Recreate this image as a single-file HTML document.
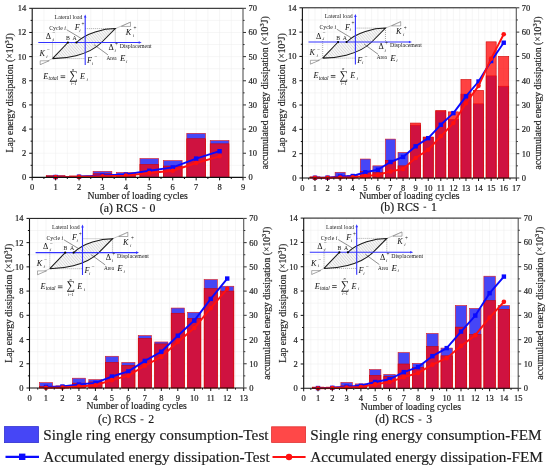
<!DOCTYPE html>
<html><head><meta charset="utf-8"><style>
html,body{margin:0;padding:0;background:#fff;}
svg{display:block;filter:blur(0.3px);}
</style></head><body>
<svg width="550" height="470" viewBox="0 0 550 470">
<rect width="550" height="470" fill="#fff"/>
<defs>
<pattern id="hatch" patternUnits="userSpaceOnUse" width="2.2" height="2.2" patternTransform="rotate(-40)">
<rect width="2.2" height="2.2" fill="#f6f6f6"/>
<line x1="0" y1="0" x2="0" y2="2.2" stroke="#a8a8a8" stroke-width="0.55"/>
</pattern>
</defs>
<path d="M 43.91 8.3 V 177.4 M 55.62 8.3 V 177.4 M 67.33 8.3 V 177.4 M 79.04 8.3 V 177.4 M 90.76 8.3 V 177.4 M 102.47 8.3 V 177.4 M 114.18 8.3 V 177.4 M 125.89 8.3 V 177.4 M 137.6 8.3 V 177.4 M 149.31 8.3 V 177.4 M 161.02 8.3 V 177.4 M 172.73 8.3 V 177.4 M 184.44 8.3 V 177.4 M 196.16 8.3 V 177.4 M 207.87 8.3 V 177.4 M 219.58 8.3 V 177.4 M 231.29 8.3 V 177.4 M 32.2 165.32 H 243 M 32.2 153.24 H 243 M 32.2 141.16 H 243 M 32.2 129.09 H 243 M 32.2 117.01 H 243 M 32.2 104.93 H 243 M 32.2 92.85 H 243 M 32.2 80.77 H 243 M 32.2 68.69 H 243 M 32.2 56.61 H 243 M 32.2 44.54 H 243 M 32.2 32.46 H 243 M 32.2 20.38 H 243" stroke="#ececec" stroke-width="0.5" fill="none"/>
<path d="M 52.5 58.6 L 67.9 42.5 L 76.4 42.5 C 86.16 32.74 103.77 28.6 115.3 28.6 L 101.5 42.5 C 87.89 56.1 63.6 58.6 52.5 58.6 Z" fill="url(#hatch)" stroke="none"/>
<path d="M 85.2 28.6 L 115.3 28.6 L 115.3 42.5 M 52.5 39.5 L 52.5 58.6 L 85.2 58.6" stroke="#555" stroke-width="0.5" stroke-dasharray="1,1" fill="none"/>
<path d="M 115.3 28.6 L 130.5 22.2 M 52.5 58.6 L 40.2 64.5" stroke="#888" stroke-width="0.5" fill="none"/>
<path d="M 121.4 26.4 L 130.5 26.4 L 130.5 22.2 Z M 49.2 60.8 L 40.2 60.8 L 40.2 64.6 Z" stroke="#777" stroke-width="0.6" fill="#fff"/>
<path d="M 52.5 58.6 L 67.9 42.5 M 76.4 42.5 C 86.16 32.74 103.77 28.6 115.3 28.6 L 101.5 42.5 C 87.89 56.1 63.6 58.6 52.5 58.6" stroke="#1a1a1a" stroke-width="1.05" fill="none"/>
<path d="M 66.6 29.7 L 80.8 38.2 M 93.9 44.6 L 107.9 54.8" stroke="#222" stroke-width="0.5" fill="none"/>
<path d="M 38.3 42.5 L 139.7 42.5 M 85.2 65 L 85.2 16.3" stroke="#3333ff" stroke-width="1.1" fill="none"/>
<path d="M 141.7 42.5 L 138.7 41.2 L 138.7 43.8 Z M 85.2 14.5 L 83.9 17.5 L 86.5 17.5 Z" fill="#3333ff"/>
<circle cx="67.9" cy="42.5" r="1.1" fill="#000"/><circle cx="76.4" cy="42.5" r="1.1" fill="#000"/>
<text x="54.6" y="18.8" style="font-family:'Liberation Serif', serif;font-size:5.8px;fill:#222" >Lateral load</text>
<text x="119.8" y="47.8" style="font-family:'Liberation Serif', serif;font-size:5.8px;fill:#222" >Displacement</text>
<text x="49.2" y="29.7" style="font-family:'Liberation Serif', serif;font-size:5.8px;fill:#222" >Cycle <tspan font-style="italic">i</tspan></text>
<text x="66.1" y="40.1" style="font-family:'Liberation Serif', serif;font-size:5.8px;fill:#222" >B</text>
<text x="72.6" y="40.1" style="font-family:'Liberation Serif', serif;font-size:5.8px;fill:#222" >A</text>
<text x="106.6" y="59.9" style="font-family:'Liberation Serif', serif;font-size:5.2px;fill:#222" >Area</text>
<text x="74.8" y="30.1" style="font-family:'Liberation Serif', serif;font-size:8.2px;font-style:italic;fill:#111" >F</text>
<text x="81.4" y="25.9" style="font-family:'Liberation Serif', serif;font-size:5.2px;fill:#222" >+</text>
<text x="79.2" y="31.7" style="font-family:'Liberation Serif', serif;font-size:4.8px;font-style:italic;fill:#222" >i</text>
<text x="87.1" y="63.1" style="font-family:'Liberation Serif', serif;font-size:8.2px;font-style:italic;fill:#111" >F</text>
<text x="94.5" y="58.1" style="font-family:'Liberation Serif', serif;font-size:5.2px;fill:#222" >−</text>
<text x="91.7" y="64.9" style="font-family:'Liberation Serif', serif;font-size:4.8px;font-style:italic;fill:#222" >i</text>
<text x="125.8" y="34.6" style="font-family:'Liberation Serif', serif;font-size:8.2px;font-style:italic;fill:#111" >K</text>
<text x="133.6" y="30" style="font-family:'Liberation Serif', serif;font-size:5.2px;fill:#222" >+</text>
<text x="132.8" y="36.6" style="font-family:'Liberation Serif', serif;font-size:4.8px;font-style:italic;fill:#222" >i</text>
<text x="39.4" y="55.8" style="font-family:'Liberation Serif', serif;font-size:8.2px;font-style:italic;fill:#111" >K</text>
<text x="47" y="51.2" style="font-family:'Liberation Serif', serif;font-size:5.2px;fill:#222" >−</text>
<text x="46.2" y="57.6" style="font-family:'Liberation Serif', serif;font-size:4.8px;font-style:italic;fill:#222" >i</text>
<text x="45.8" y="39" style="font-family:'Liberation Serif', serif;font-size:8.2px;fill:#111" >Δ</text>
<text x="52.6" y="34.4" style="font-family:'Liberation Serif', serif;font-size:5.2px;fill:#222" >−</text>
<text x="52.8" y="40.8" style="font-family:'Liberation Serif', serif;font-size:4.8px;font-style:italic;fill:#222" >i</text>
<text x="108.4" y="49.7" style="font-family:'Liberation Serif', serif;font-size:8.2px;fill:#111" >Δ</text>
<text x="114.9" y="45.9" style="font-family:'Liberation Serif', serif;font-size:5.2px;fill:#222" >+</text>
<text x="114.4" y="52.3" style="font-family:'Liberation Serif', serif;font-size:4.8px;font-style:italic;fill:#222" >i</text>
<text x="120" y="61.2" style="font-family:'Liberation Serif', serif;font-size:8.8px;font-style:italic;fill:#111" >E</text>
<text x="126.1" y="62.5" style="font-family:'Liberation Serif', serif;font-size:4.8px;font-style:italic;fill:#222" >i</text>
<text x="43.2" y="78.7" style="font-family:'Liberation Serif', serif;font-style:italic;fill:#111;font-size:8.2px">E</text>
<text x="48.5" y="80.3" style="font-family:'Liberation Serif', serif;font-style:italic;fill:#111;font-size:5.3px">total</text>
<rect x="60.6" y="75.5" width="4.6" height="0.75" fill="#222"/>
<rect x="60.6" y="77.3" width="4.6" height="0.75" fill="#222"/>
<text x="69" y="79.3" style="font-family:'Liberation Serif', serif;font-size:12px;fill:#111">∑</text>
<text x="72.1" y="70.6" style="font-family:'Liberation Serif', serif;font-style:italic;fill:#111;font-size:4.2px">n</text>
<text x="70.7" y="85.4" style="font-family:'Liberation Serif', serif;font-style:italic;fill:#111;font-size:4.2px">i</text><text x="71.9" y="85.4" style="font-family:'Liberation Serif', serif;font-size:4.2px;fill:#111">=1</text>
<text x="80" y="78.7" style="font-family:'Liberation Serif', serif;font-style:italic;fill:#111;font-size:8.2px">E</text>
<text x="86.4" y="80.6" style="font-family:'Liberation Serif', serif;font-style:italic;fill:#111;font-size:4.8px">i</text>
<rect x="46.25" y="175.35" width="18.74" height="2.05" fill="#4646f6" stroke="#e01a1a" stroke-width="0.6"/>
<rect x="69.68" y="175.95" width="18.74" height="1.45" fill="#4646f6" stroke="#e01a1a" stroke-width="0.6"/>
<rect x="93.1" y="171.36" width="18.74" height="6.04" fill="#4646f6" stroke="#e01a1a" stroke-width="0.6"/>
<rect x="116.52" y="172.57" width="18.74" height="4.83" fill="#4646f6" stroke="#e01a1a" stroke-width="0.6"/>
<rect x="139.94" y="158.56" width="18.74" height="18.84" fill="#4646f6" stroke="#e01a1a" stroke-width="0.6"/>
<rect x="163.36" y="160.61" width="18.74" height="16.79" fill="#4646f6" stroke="#e01a1a" stroke-width="0.6"/>
<rect x="186.79" y="133.31" width="18.74" height="44.09" fill="#4646f6" stroke="#e01a1a" stroke-width="0.6"/>
<rect x="210.21" y="140.56" width="18.74" height="36.84" fill="#4646f6" stroke="#e01a1a" stroke-width="0.6"/>
<rect x="46.25" y="176.19" width="18.74" height="1.21" fill="rgba(255,0,0,0.74)" stroke="#d00000" stroke-width="0.6"/>
<rect x="69.68" y="176.19" width="18.74" height="1.21" fill="rgba(255,0,0,0.74)" stroke="#d00000" stroke-width="0.6"/>
<rect x="93.1" y="173.78" width="18.74" height="3.62" fill="rgba(255,0,0,0.74)" stroke="#d00000" stroke-width="0.6"/>
<rect x="116.52" y="174.38" width="18.74" height="3.02" fill="rgba(255,0,0,0.74)" stroke="#d00000" stroke-width="0.6"/>
<rect x="139.94" y="164.48" width="18.74" height="12.92" fill="rgba(255,0,0,0.74)" stroke="#d00000" stroke-width="0.6"/>
<rect x="163.36" y="166.05" width="18.74" height="11.35" fill="rgba(255,0,0,0.74)" stroke="#d00000" stroke-width="0.6"/>
<rect x="186.79" y="138.75" width="18.74" height="38.65" fill="rgba(255,0,0,0.74)" stroke="#d00000" stroke-width="0.6"/>
<rect x="210.21" y="143.82" width="18.74" height="33.58" fill="rgba(255,0,0,0.74)" stroke="#d00000" stroke-width="0.6"/>
<polyline points="55.62,176.99 79.04,176.7 102.47,175.49 125.89,174.53 149.31,170.76 172.73,167.4 196.16,158.58 219.58,151.21" fill="none" stroke="#0a0aff" stroke-width="1.9" stroke-linejoin="round"/>
<rect x="53.42" y="174.79" width="4.4" height="4.4" fill="#0a0aff"/>
<rect x="76.84" y="174.5" width="4.4" height="4.4" fill="#0a0aff"/>
<rect x="100.27" y="173.29" width="4.4" height="4.4" fill="#0a0aff"/>
<rect x="123.69" y="172.33" width="4.4" height="4.4" fill="#0a0aff"/>
<rect x="147.11" y="168.56" width="4.4" height="4.4" fill="#0a0aff"/>
<rect x="170.53" y="165.2" width="4.4" height="4.4" fill="#0a0aff"/>
<rect x="193.96" y="156.38" width="4.4" height="4.4" fill="#0a0aff"/>
<rect x="217.38" y="149.01" width="4.4" height="4.4" fill="#0a0aff"/>
<polyline points="55.62,177.16 79.04,176.92 102.47,176.19 125.89,175.59 149.31,173 172.73,170.73 196.16,163 219.58,156.29" fill="none" stroke="#ff1010" stroke-width="1.9" stroke-linejoin="round"/>
<circle cx="55.62" cy="177.16" r="2.3" fill="#ff1010"/>
<circle cx="79.04" cy="176.92" r="2.3" fill="#ff1010"/>
<circle cx="102.47" cy="176.19" r="2.3" fill="#ff1010"/>
<circle cx="125.89" cy="175.59" r="2.3" fill="#ff1010"/>
<circle cx="149.31" cy="173" r="2.3" fill="#ff1010"/>
<circle cx="172.73" cy="170.73" r="2.3" fill="#ff1010"/>
<circle cx="196.16" cy="163" r="2.3" fill="#ff1010"/>
<circle cx="219.58" cy="156.29" r="2.3" fill="#ff1010"/>
<path d="M 32.2 8.3 V 177.4 H 243" stroke="#111" stroke-width="1.1" fill="none"/>
<path d="M 32.2 8.3 H 243" stroke="#111" stroke-width="1.0" fill="none"/>
<path d="M 243 8.3 V 177.4" stroke="#555" stroke-width="1.1" fill="none"/>
<path d="M 29.2 177.4 H 32.2 M 30.6 165.32 H 32.2 M 29.2 153.24 H 32.2 M 30.6 141.16 H 32.2 M 29.2 129.09 H 32.2 M 30.6 117.01 H 32.2 M 29.2 104.93 H 32.2 M 30.6 92.85 H 32.2 M 29.2 80.77 H 32.2 M 30.6 68.69 H 32.2 M 29.2 56.61 H 32.2 M 30.6 44.54 H 32.2 M 29.2 32.46 H 32.2 M 30.6 20.38 H 32.2 M 29.2 8.3 H 32.2 M 32.2 177.4 V 180.4 M 43.91 177.4 V 179 M 55.62 177.4 V 180.4 M 67.33 177.4 V 179 M 79.04 177.4 V 180.4 M 90.76 177.4 V 179 M 102.47 177.4 V 180.4 M 114.18 177.4 V 179 M 125.89 177.4 V 180.4 M 137.6 177.4 V 179 M 149.31 177.4 V 180.4 M 161.02 177.4 V 179 M 172.73 177.4 V 180.4 M 184.44 177.4 V 179 M 196.16 177.4 V 180.4 M 207.87 177.4 V 179 M 219.58 177.4 V 180.4 M 231.29 177.4 V 179 M 243 177.4 V 180.4" stroke="#111" stroke-width="1" fill="none"/>
<path d="M 243 177.4 H 246 M 243 165.32 H 244.6 M 243 153.24 H 246 M 243 141.16 H 244.6 M 243 129.09 H 246 M 243 117.01 H 244.6 M 243 104.93 H 246 M 243 92.85 H 244.6 M 243 80.77 H 246 M 243 68.69 H 244.6 M 243 56.61 H 246 M 243 44.54 H 244.6 M 243 32.46 H 246 M 243 20.38 H 244.6 M 243 8.3 H 246" stroke="#333" stroke-width="1" fill="none"/>
<text x="26.2" y="180.4" text-anchor="end" style="font-family:'Liberation Serif', serif;font-size:8.5px;fill:#1e1e1e;stroke:#1e1e1e;stroke-width:0.2px">0</text>
<text x="26.2" y="156.24" text-anchor="end" style="font-family:'Liberation Serif', serif;font-size:8.5px;fill:#1e1e1e;stroke:#1e1e1e;stroke-width:0.2px">2</text>
<text x="26.2" y="132.09" text-anchor="end" style="font-family:'Liberation Serif', serif;font-size:8.5px;fill:#1e1e1e;stroke:#1e1e1e;stroke-width:0.2px">4</text>
<text x="26.2" y="107.93" text-anchor="end" style="font-family:'Liberation Serif', serif;font-size:8.5px;fill:#1e1e1e;stroke:#1e1e1e;stroke-width:0.2px">6</text>
<text x="26.2" y="83.77" text-anchor="end" style="font-family:'Liberation Serif', serif;font-size:8.5px;fill:#1e1e1e;stroke:#1e1e1e;stroke-width:0.2px">8</text>
<text x="26.2" y="59.61" text-anchor="end" style="font-family:'Liberation Serif', serif;font-size:8.5px;fill:#1e1e1e;stroke:#1e1e1e;stroke-width:0.2px">10</text>
<text x="26.2" y="35.46" text-anchor="end" style="font-family:'Liberation Serif', serif;font-size:8.5px;fill:#1e1e1e;stroke:#1e1e1e;stroke-width:0.2px">12</text>
<text x="26.2" y="11.3" text-anchor="end" style="font-family:'Liberation Serif', serif;font-size:8.5px;fill:#1e1e1e;stroke:#1e1e1e;stroke-width:0.2px">14</text>
<text x="32.2" y="190.2" text-anchor="middle" style="font-family:'Liberation Serif', serif;font-size:8.5px;fill:#1e1e1e;stroke:#1e1e1e;stroke-width:0.2px">0</text>
<text x="55.62" y="190.2" text-anchor="middle" style="font-family:'Liberation Serif', serif;font-size:8.5px;fill:#1e1e1e;stroke:#1e1e1e;stroke-width:0.2px">1</text>
<text x="79.04" y="190.2" text-anchor="middle" style="font-family:'Liberation Serif', serif;font-size:8.5px;fill:#1e1e1e;stroke:#1e1e1e;stroke-width:0.2px">2</text>
<text x="102.47" y="190.2" text-anchor="middle" style="font-family:'Liberation Serif', serif;font-size:8.5px;fill:#1e1e1e;stroke:#1e1e1e;stroke-width:0.2px">3</text>
<text x="125.89" y="190.2" text-anchor="middle" style="font-family:'Liberation Serif', serif;font-size:8.5px;fill:#1e1e1e;stroke:#1e1e1e;stroke-width:0.2px">4</text>
<text x="149.31" y="190.2" text-anchor="middle" style="font-family:'Liberation Serif', serif;font-size:8.5px;fill:#1e1e1e;stroke:#1e1e1e;stroke-width:0.2px">5</text>
<text x="172.73" y="190.2" text-anchor="middle" style="font-family:'Liberation Serif', serif;font-size:8.5px;fill:#1e1e1e;stroke:#1e1e1e;stroke-width:0.2px">6</text>
<text x="196.16" y="190.2" text-anchor="middle" style="font-family:'Liberation Serif', serif;font-size:8.5px;fill:#1e1e1e;stroke:#1e1e1e;stroke-width:0.2px">7</text>
<text x="219.58" y="190.2" text-anchor="middle" style="font-family:'Liberation Serif', serif;font-size:8.5px;fill:#1e1e1e;stroke:#1e1e1e;stroke-width:0.2px">8</text>
<text x="243" y="190.2" text-anchor="middle" style="font-family:'Liberation Serif', serif;font-size:8.5px;fill:#1e1e1e;stroke:#1e1e1e;stroke-width:0.2px">9</text>
<text x="248.5" y="180.4" text-anchor="start" style="font-family:'Liberation Serif', serif;font-size:8.5px;fill:#1e1e1e;stroke:#1e1e1e;stroke-width:0.2px">0</text>
<text x="248.5" y="156.24" text-anchor="start" style="font-family:'Liberation Serif', serif;font-size:8.5px;fill:#1e1e1e;stroke:#1e1e1e;stroke-width:0.2px">10</text>
<text x="248.5" y="132.09" text-anchor="start" style="font-family:'Liberation Serif', serif;font-size:8.5px;fill:#1e1e1e;stroke:#1e1e1e;stroke-width:0.2px">20</text>
<text x="248.5" y="107.93" text-anchor="start" style="font-family:'Liberation Serif', serif;font-size:8.5px;fill:#1e1e1e;stroke:#1e1e1e;stroke-width:0.2px">30</text>
<text x="248.5" y="83.77" text-anchor="start" style="font-family:'Liberation Serif', serif;font-size:8.5px;fill:#1e1e1e;stroke:#1e1e1e;stroke-width:0.2px">40</text>
<text x="248.5" y="59.61" text-anchor="start" style="font-family:'Liberation Serif', serif;font-size:8.5px;fill:#1e1e1e;stroke:#1e1e1e;stroke-width:0.2px">50</text>
<text x="248.5" y="35.46" text-anchor="start" style="font-family:'Liberation Serif', serif;font-size:8.5px;fill:#1e1e1e;stroke:#1e1e1e;stroke-width:0.2px">60</text>
<text x="248.5" y="11.3" text-anchor="start" style="font-family:'Liberation Serif', serif;font-size:8.5px;fill:#1e1e1e;stroke:#1e1e1e;stroke-width:0.2px">70</text>
<text transform="translate(12.6 92.85) rotate(-90)" text-anchor="middle" style="font-family:'Liberation Serif', serif;font-size:9.7px;fill:#1e1e1e;stroke:#1e1e1e;stroke-width:0.18px">Lap energy dissipation (×10<tspan dy="-3.4" font-size="6.4">3</tspan><tspan dy="3.4">J)</tspan></text>
<text transform="translate(267.5 92.85) rotate(-90)" text-anchor="middle" style="font-family:'Liberation Serif', serif;font-size:9.7px;fill:#1e1e1e;stroke:#1e1e1e;stroke-width:0.18px">accumulated energy dissipation (×10<tspan dy="-3.4" font-size="6.4">3</tspan><tspan dy="3.4">J)</tspan></text>
<text x="137.6" y="198.8" text-anchor="middle" style="font-family:'Liberation Serif', serif;font-size:9.7px;fill:#1e1e1e;stroke:#1e1e1e;stroke-width:0.18px">Number of loading cycles</text>
<text x="99.8" y="211.5" style="font-family:'Liberation Serif', serif;font-size:11.8px;fill:#1a1a1a;stroke:#1a1a1a;stroke-width:0.18px">(a) RCS</text>
<rect x="142.3" y="207.5" width="2.9" height="1.0" fill="#333"/>
<text x="149.55" y="211.5" style="font-family:'Liberation Serif', serif;font-size:11.8px;fill:#1a1a1a;stroke:#1a1a1a;stroke-width:0.18px">0</text>
<path d="M 308.69 7.8 V 178 M 314.98 7.8 V 178 M 321.27 7.8 V 178 M 327.56 7.8 V 178 M 333.86 7.8 V 178 M 340.15 7.8 V 178 M 346.44 7.8 V 178 M 352.73 7.8 V 178 M 359.02 7.8 V 178 M 365.31 7.8 V 178 M 371.6 7.8 V 178 M 377.89 7.8 V 178 M 384.19 7.8 V 178 M 390.48 7.8 V 178 M 396.77 7.8 V 178 M 403.06 7.8 V 178 M 409.35 7.8 V 178 M 415.64 7.8 V 178 M 421.93 7.8 V 178 M 428.22 7.8 V 178 M 434.51 7.8 V 178 M 440.81 7.8 V 178 M 447.1 7.8 V 178 M 453.39 7.8 V 178 M 459.68 7.8 V 178 M 465.97 7.8 V 178 M 472.26 7.8 V 178 M 478.55 7.8 V 178 M 484.84 7.8 V 178 M 491.14 7.8 V 178 M 497.43 7.8 V 178 M 503.72 7.8 V 178 M 510.01 7.8 V 178 M 302.4 165.84 H 516.3 M 302.4 153.69 H 516.3 M 302.4 141.53 H 516.3 M 302.4 129.37 H 516.3 M 302.4 117.21 H 516.3 M 302.4 105.06 H 516.3 M 302.4 92.9 H 516.3 M 302.4 80.74 H 516.3 M 302.4 68.59 H 516.3 M 302.4 56.43 H 516.3 M 302.4 44.27 H 516.3 M 302.4 32.11 H 516.3 M 302.4 19.96 H 516.3" stroke="#ececec" stroke-width="0.5" fill="none"/>
<path d="M 322.7 58.1 L 338.1 42 L 346.6 42 C 356.36 32.24 373.97 28.1 385.5 28.1 L 371.7 42 C 358.09 55.6 333.8 58.1 322.7 58.1 Z" fill="url(#hatch)" stroke="none"/>
<path d="M 355.4 28.1 L 385.5 28.1 L 385.5 42 M 322.7 39 L 322.7 58.1 L 355.4 58.1" stroke="#555" stroke-width="0.5" stroke-dasharray="1,1" fill="none"/>
<path d="M 385.5 28.1 L 400.7 21.7 M 322.7 58.1 L 310.4 64" stroke="#888" stroke-width="0.5" fill="none"/>
<path d="M 391.6 25.9 L 400.7 25.9 L 400.7 21.7 Z M 319.4 60.3 L 310.4 60.3 L 310.4 64.1 Z" stroke="#777" stroke-width="0.6" fill="#fff"/>
<path d="M 322.7 58.1 L 338.1 42 M 346.6 42 C 356.36 32.24 373.97 28.1 385.5 28.1 L 371.7 42 C 358.09 55.6 333.8 58.1 322.7 58.1" stroke="#1a1a1a" stroke-width="1.05" fill="none"/>
<path d="M 336.8 29.2 L 351 37.7 M 364.1 44.1 L 378.1 54.3" stroke="#222" stroke-width="0.5" fill="none"/>
<path d="M 308.5 42 L 409.9 42 M 355.4 64.5 L 355.4 15.8" stroke="#3333ff" stroke-width="1.1" fill="none"/>
<path d="M 411.9 42 L 408.9 40.7 L 408.9 43.3 Z M 355.4 14 L 354.1 17 L 356.7 17 Z" fill="#3333ff"/>
<circle cx="338.1" cy="42" r="1.1" fill="#000"/><circle cx="346.6" cy="42" r="1.1" fill="#000"/>
<text x="324.8" y="18.3" style="font-family:'Liberation Serif', serif;font-size:5.8px;fill:#222" >Lateral load</text>
<text x="390" y="47.3" style="font-family:'Liberation Serif', serif;font-size:5.8px;fill:#222" >Displacement</text>
<text x="319.4" y="29.2" style="font-family:'Liberation Serif', serif;font-size:5.8px;fill:#222" >Cycle <tspan font-style="italic">i</tspan></text>
<text x="336.3" y="39.6" style="font-family:'Liberation Serif', serif;font-size:5.8px;fill:#222" >B</text>
<text x="342.8" y="39.6" style="font-family:'Liberation Serif', serif;font-size:5.8px;fill:#222" >A</text>
<text x="376.8" y="59.4" style="font-family:'Liberation Serif', serif;font-size:5.2px;fill:#222" >Area</text>
<text x="345" y="29.6" style="font-family:'Liberation Serif', serif;font-size:8.2px;font-style:italic;fill:#111" >F</text>
<text x="351.6" y="25.4" style="font-family:'Liberation Serif', serif;font-size:5.2px;fill:#222" >+</text>
<text x="349.4" y="31.2" style="font-family:'Liberation Serif', serif;font-size:4.8px;font-style:italic;fill:#222" >i</text>
<text x="357.3" y="62.6" style="font-family:'Liberation Serif', serif;font-size:8.2px;font-style:italic;fill:#111" >F</text>
<text x="364.7" y="57.6" style="font-family:'Liberation Serif', serif;font-size:5.2px;fill:#222" >−</text>
<text x="361.9" y="64.4" style="font-family:'Liberation Serif', serif;font-size:4.8px;font-style:italic;fill:#222" >i</text>
<text x="396" y="34.1" style="font-family:'Liberation Serif', serif;font-size:8.2px;font-style:italic;fill:#111" >K</text>
<text x="403.8" y="29.5" style="font-family:'Liberation Serif', serif;font-size:5.2px;fill:#222" >+</text>
<text x="403" y="36.1" style="font-family:'Liberation Serif', serif;font-size:4.8px;font-style:italic;fill:#222" >i</text>
<text x="309.6" y="55.3" style="font-family:'Liberation Serif', serif;font-size:8.2px;font-style:italic;fill:#111" >K</text>
<text x="317.2" y="50.7" style="font-family:'Liberation Serif', serif;font-size:5.2px;fill:#222" >−</text>
<text x="316.4" y="57.1" style="font-family:'Liberation Serif', serif;font-size:4.8px;font-style:italic;fill:#222" >i</text>
<text x="316" y="38.5" style="font-family:'Liberation Serif', serif;font-size:8.2px;fill:#111" >Δ</text>
<text x="322.8" y="33.9" style="font-family:'Liberation Serif', serif;font-size:5.2px;fill:#222" >−</text>
<text x="323" y="40.3" style="font-family:'Liberation Serif', serif;font-size:4.8px;font-style:italic;fill:#222" >i</text>
<text x="378.6" y="49.2" style="font-family:'Liberation Serif', serif;font-size:8.2px;fill:#111" >Δ</text>
<text x="385.1" y="45.4" style="font-family:'Liberation Serif', serif;font-size:5.2px;fill:#222" >+</text>
<text x="384.6" y="51.8" style="font-family:'Liberation Serif', serif;font-size:4.8px;font-style:italic;fill:#222" >i</text>
<text x="390.2" y="60.7" style="font-family:'Liberation Serif', serif;font-size:8.8px;font-style:italic;fill:#111" >E</text>
<text x="396.3" y="62" style="font-family:'Liberation Serif', serif;font-size:4.8px;font-style:italic;fill:#222" >i</text>
<text x="313.4" y="78.2" style="font-family:'Liberation Serif', serif;font-style:italic;fill:#111;font-size:8.2px">E</text>
<text x="318.7" y="79.8" style="font-family:'Liberation Serif', serif;font-style:italic;fill:#111;font-size:5.3px">total</text>
<rect x="330.8" y="75" width="4.6" height="0.75" fill="#222"/>
<rect x="330.8" y="76.8" width="4.6" height="0.75" fill="#222"/>
<text x="339.2" y="78.8" style="font-family:'Liberation Serif', serif;font-size:12px;fill:#111">∑</text>
<text x="342.3" y="70.1" style="font-family:'Liberation Serif', serif;font-style:italic;fill:#111;font-size:4.2px">n</text>
<text x="340.9" y="84.9" style="font-family:'Liberation Serif', serif;font-style:italic;fill:#111;font-size:4.2px">i</text><text x="342.1" y="84.9" style="font-family:'Liberation Serif', serif;font-size:4.2px;fill:#111">=1</text>
<text x="350.2" y="78.2" style="font-family:'Liberation Serif', serif;font-style:italic;fill:#111;font-size:8.2px">E</text>
<text x="356.6" y="80.1" style="font-family:'Liberation Serif', serif;font-style:italic;fill:#111;font-size:4.8px">i</text>
<rect x="309.95" y="176.78" width="10.07" height="1.22" fill="#4646f6" stroke="#e01a1a" stroke-width="0.6"/>
<rect x="322.53" y="177.39" width="10.07" height="0.61" fill="#4646f6" stroke="#e01a1a" stroke-width="0.6"/>
<rect x="335.11" y="172.29" width="10.07" height="5.71" fill="#4646f6" stroke="#e01a1a" stroke-width="0.6"/>
<rect x="347.7" y="175.57" width="10.07" height="2.43" fill="#4646f6" stroke="#e01a1a" stroke-width="0.6"/>
<rect x="360.28" y="159.03" width="10.07" height="18.97" fill="#4646f6" stroke="#e01a1a" stroke-width="0.6"/>
<rect x="372.86" y="165.84" width="10.07" height="12.16" fill="#4646f6" stroke="#e01a1a" stroke-width="0.6"/>
<rect x="385.44" y="139.1" width="10.07" height="38.9" fill="#4646f6" stroke="#e01a1a" stroke-width="0.6"/>
<rect x="398.03" y="152.47" width="10.07" height="25.53" fill="#4646f6" stroke="#e01a1a" stroke-width="0.6"/>
<rect x="410.61" y="125.12" width="10.07" height="52.88" fill="#4646f6" stroke="#e01a1a" stroke-width="0.6"/>
<rect x="423.19" y="137.27" width="10.07" height="40.73" fill="#4646f6" stroke="#e01a1a" stroke-width="0.6"/>
<rect x="435.77" y="111.14" width="10.07" height="66.86" fill="#4646f6" stroke="#e01a1a" stroke-width="0.6"/>
<rect x="448.36" y="119.52" width="10.07" height="58.48" fill="#4646f6" stroke="#e01a1a" stroke-width="0.6"/>
<rect x="460.94" y="94.12" width="10.07" height="83.88" fill="#4646f6" stroke="#e01a1a" stroke-width="0.6"/>
<rect x="473.52" y="103.84" width="10.07" height="74.16" fill="#4646f6" stroke="#e01a1a" stroke-width="0.6"/>
<rect x="486.1" y="75.88" width="10.07" height="102.12" fill="#4646f6" stroke="#e01a1a" stroke-width="0.6"/>
<rect x="498.68" y="86.21" width="10.07" height="91.79" fill="#4646f6" stroke="#e01a1a" stroke-width="0.6"/>
<rect x="309.95" y="177.39" width="10.07" height="0.61" fill="rgba(255,0,0,0.74)" stroke="#d00000" stroke-width="0.6"/>
<rect x="322.53" y="177.39" width="10.07" height="0.61" fill="rgba(255,0,0,0.74)" stroke="#d00000" stroke-width="0.6"/>
<rect x="335.11" y="176.78" width="10.07" height="1.22" fill="rgba(255,0,0,0.74)" stroke="#d00000" stroke-width="0.6"/>
<rect x="347.7" y="176.78" width="10.07" height="1.22" fill="rgba(255,0,0,0.74)" stroke="#d00000" stroke-width="0.6"/>
<rect x="360.28" y="171.56" width="10.07" height="6.44" fill="rgba(255,0,0,0.74)" stroke="#d00000" stroke-width="0.6"/>
<rect x="372.86" y="172.65" width="10.07" height="5.35" fill="rgba(255,0,0,0.74)" stroke="#d00000" stroke-width="0.6"/>
<rect x="385.44" y="160.37" width="10.07" height="17.63" fill="rgba(255,0,0,0.74)" stroke="#d00000" stroke-width="0.6"/>
<rect x="398.03" y="165.84" width="10.07" height="12.16" fill="rgba(255,0,0,0.74)" stroke="#d00000" stroke-width="0.6"/>
<rect x="410.61" y="123.05" width="10.07" height="54.95" fill="rgba(255,0,0,0.74)" stroke="#d00000" stroke-width="0.6"/>
<rect x="423.19" y="137.03" width="10.07" height="40.97" fill="rgba(255,0,0,0.74)" stroke="#d00000" stroke-width="0.6"/>
<rect x="435.77" y="110.53" width="10.07" height="67.47" fill="rgba(255,0,0,0.74)" stroke="#d00000" stroke-width="0.6"/>
<rect x="448.36" y="111.87" width="10.07" height="66.13" fill="rgba(255,0,0,0.74)" stroke="#d00000" stroke-width="0.6"/>
<rect x="460.94" y="79.53" width="10.07" height="98.47" fill="rgba(255,0,0,0.74)" stroke="#d00000" stroke-width="0.6"/>
<rect x="473.52" y="90.47" width="10.07" height="87.53" fill="rgba(255,0,0,0.74)" stroke="#d00000" stroke-width="0.6"/>
<rect x="486.1" y="41.84" width="10.07" height="136.16" fill="rgba(255,0,0,0.74)" stroke="#d00000" stroke-width="0.6"/>
<rect x="498.68" y="56.43" width="10.07" height="121.57" fill="rgba(255,0,0,0.74)" stroke="#d00000" stroke-width="0.6"/>
<polyline points="314.98,177.76 327.56,177.64 340.15,176.49 352.73,176.01 365.31,172.21 377.89,169.78 390.48,162 403.06,156.9 415.64,146.32 428.22,138.17 440.81,124.8 453.39,113.11 465.97,96.33 478.55,81.5 491.14,61.07 503.72,42.72" fill="none" stroke="#0a0aff" stroke-width="1.9" stroke-linejoin="round"/>
<rect x="312.78" y="175.56" width="4.4" height="4.4" fill="#0a0aff"/>
<rect x="325.36" y="175.44" width="4.4" height="4.4" fill="#0a0aff"/>
<rect x="337.95" y="174.29" width="4.4" height="4.4" fill="#0a0aff"/>
<rect x="350.53" y="173.81" width="4.4" height="4.4" fill="#0a0aff"/>
<rect x="363.11" y="170.01" width="4.4" height="4.4" fill="#0a0aff"/>
<rect x="375.69" y="167.58" width="4.4" height="4.4" fill="#0a0aff"/>
<rect x="388.28" y="159.8" width="4.4" height="4.4" fill="#0a0aff"/>
<rect x="400.86" y="154.7" width="4.4" height="4.4" fill="#0a0aff"/>
<rect x="413.44" y="144.12" width="4.4" height="4.4" fill="#0a0aff"/>
<rect x="426.02" y="135.97" width="4.4" height="4.4" fill="#0a0aff"/>
<rect x="438.61" y="122.6" width="4.4" height="4.4" fill="#0a0aff"/>
<rect x="451.19" y="110.91" width="4.4" height="4.4" fill="#0a0aff"/>
<rect x="463.77" y="94.13" width="4.4" height="4.4" fill="#0a0aff"/>
<rect x="476.35" y="79.3" width="4.4" height="4.4" fill="#0a0aff"/>
<rect x="488.94" y="58.87" width="4.4" height="4.4" fill="#0a0aff"/>
<rect x="501.52" y="40.52" width="4.4" height="4.4" fill="#0a0aff"/>
<polyline points="314.98,177.88 327.56,177.76 340.15,177.51 352.73,177.27 365.31,175.98 377.89,174.91 390.48,171.39 403.06,168.96 415.64,157.97 428.22,149.77 440.81,136.28 453.39,123.05 465.97,103.36 478.55,85.85 491.14,58.62 503.72,34.3" fill="none" stroke="#ff1010" stroke-width="1.9" stroke-linejoin="round"/>
<circle cx="314.98" cy="177.88" r="2.3" fill="#ff1010"/>
<circle cx="327.56" cy="177.76" r="2.3" fill="#ff1010"/>
<circle cx="340.15" cy="177.51" r="2.3" fill="#ff1010"/>
<circle cx="352.73" cy="177.27" r="2.3" fill="#ff1010"/>
<circle cx="365.31" cy="175.98" r="2.3" fill="#ff1010"/>
<circle cx="377.89" cy="174.91" r="2.3" fill="#ff1010"/>
<circle cx="390.48" cy="171.39" r="2.3" fill="#ff1010"/>
<circle cx="403.06" cy="168.96" r="2.3" fill="#ff1010"/>
<circle cx="415.64" cy="157.97" r="2.3" fill="#ff1010"/>
<circle cx="428.22" cy="149.77" r="2.3" fill="#ff1010"/>
<circle cx="440.81" cy="136.28" r="2.3" fill="#ff1010"/>
<circle cx="453.39" cy="123.05" r="2.3" fill="#ff1010"/>
<circle cx="465.97" cy="103.36" r="2.3" fill="#ff1010"/>
<circle cx="478.55" cy="85.85" r="2.3" fill="#ff1010"/>
<circle cx="491.14" cy="58.62" r="2.3" fill="#ff1010"/>
<circle cx="503.72" cy="34.3" r="2.3" fill="#ff1010"/>
<path d="M 302.4 7.8 V 178 H 516.3" stroke="#111" stroke-width="1.1" fill="none"/>
<path d="M 302.4 7.8 H 516.3" stroke="#111" stroke-width="1.0" fill="none"/>
<path d="M 516.3 7.8 V 178" stroke="#555" stroke-width="1.1" fill="none"/>
<path d="M 299.4 178 H 302.4 M 300.8 165.84 H 302.4 M 299.4 153.69 H 302.4 M 300.8 141.53 H 302.4 M 299.4 129.37 H 302.4 M 300.8 117.21 H 302.4 M 299.4 105.06 H 302.4 M 300.8 92.9 H 302.4 M 299.4 80.74 H 302.4 M 300.8 68.59 H 302.4 M 299.4 56.43 H 302.4 M 300.8 44.27 H 302.4 M 299.4 32.11 H 302.4 M 300.8 19.96 H 302.4 M 299.4 7.8 H 302.4 M 302.4 178 V 181 M 308.69 178 V 179.6 M 314.98 178 V 181 M 321.27 178 V 179.6 M 327.56 178 V 181 M 333.86 178 V 179.6 M 340.15 178 V 181 M 346.44 178 V 179.6 M 352.73 178 V 181 M 359.02 178 V 179.6 M 365.31 178 V 181 M 371.6 178 V 179.6 M 377.89 178 V 181 M 384.19 178 V 179.6 M 390.48 178 V 181 M 396.77 178 V 179.6 M 403.06 178 V 181 M 409.35 178 V 179.6 M 415.64 178 V 181 M 421.93 178 V 179.6 M 428.22 178 V 181 M 434.51 178 V 179.6 M 440.81 178 V 181 M 447.1 178 V 179.6 M 453.39 178 V 181 M 459.68 178 V 179.6 M 465.97 178 V 181 M 472.26 178 V 179.6 M 478.55 178 V 181 M 484.84 178 V 179.6 M 491.14 178 V 181 M 497.43 178 V 179.6 M 503.72 178 V 181 M 510.01 178 V 179.6 M 516.3 178 V 181" stroke="#111" stroke-width="1" fill="none"/>
<path d="M 516.3 178 H 519.3 M 516.3 165.84 H 517.9 M 516.3 153.69 H 519.3 M 516.3 141.53 H 517.9 M 516.3 129.37 H 519.3 M 516.3 117.21 H 517.9 M 516.3 105.06 H 519.3 M 516.3 92.9 H 517.9 M 516.3 80.74 H 519.3 M 516.3 68.59 H 517.9 M 516.3 56.43 H 519.3 M 516.3 44.27 H 517.9 M 516.3 32.11 H 519.3 M 516.3 19.96 H 517.9 M 516.3 7.8 H 519.3" stroke="#333" stroke-width="1" fill="none"/>
<text x="296.4" y="181" text-anchor="end" style="font-family:'Liberation Serif', serif;font-size:8.5px;fill:#1e1e1e;stroke:#1e1e1e;stroke-width:0.2px">0</text>
<text x="296.4" y="156.69" text-anchor="end" style="font-family:'Liberation Serif', serif;font-size:8.5px;fill:#1e1e1e;stroke:#1e1e1e;stroke-width:0.2px">2</text>
<text x="296.4" y="132.37" text-anchor="end" style="font-family:'Liberation Serif', serif;font-size:8.5px;fill:#1e1e1e;stroke:#1e1e1e;stroke-width:0.2px">4</text>
<text x="296.4" y="108.06" text-anchor="end" style="font-family:'Liberation Serif', serif;font-size:8.5px;fill:#1e1e1e;stroke:#1e1e1e;stroke-width:0.2px">6</text>
<text x="296.4" y="83.74" text-anchor="end" style="font-family:'Liberation Serif', serif;font-size:8.5px;fill:#1e1e1e;stroke:#1e1e1e;stroke-width:0.2px">8</text>
<text x="296.4" y="59.43" text-anchor="end" style="font-family:'Liberation Serif', serif;font-size:8.5px;fill:#1e1e1e;stroke:#1e1e1e;stroke-width:0.2px">10</text>
<text x="296.4" y="35.11" text-anchor="end" style="font-family:'Liberation Serif', serif;font-size:8.5px;fill:#1e1e1e;stroke:#1e1e1e;stroke-width:0.2px">12</text>
<text x="296.4" y="10.8" text-anchor="end" style="font-family:'Liberation Serif', serif;font-size:8.5px;fill:#1e1e1e;stroke:#1e1e1e;stroke-width:0.2px">14</text>
<text x="302.4" y="190.8" text-anchor="middle" style="font-family:'Liberation Serif', serif;font-size:8.5px;fill:#1e1e1e;stroke:#1e1e1e;stroke-width:0.2px">0</text>
<text x="314.98" y="190.8" text-anchor="middle" style="font-family:'Liberation Serif', serif;font-size:8.5px;fill:#1e1e1e;stroke:#1e1e1e;stroke-width:0.2px">1</text>
<text x="327.56" y="190.8" text-anchor="middle" style="font-family:'Liberation Serif', serif;font-size:8.5px;fill:#1e1e1e;stroke:#1e1e1e;stroke-width:0.2px">2</text>
<text x="340.15" y="190.8" text-anchor="middle" style="font-family:'Liberation Serif', serif;font-size:8.5px;fill:#1e1e1e;stroke:#1e1e1e;stroke-width:0.2px">3</text>
<text x="352.73" y="190.8" text-anchor="middle" style="font-family:'Liberation Serif', serif;font-size:8.5px;fill:#1e1e1e;stroke:#1e1e1e;stroke-width:0.2px">4</text>
<text x="365.31" y="190.8" text-anchor="middle" style="font-family:'Liberation Serif', serif;font-size:8.5px;fill:#1e1e1e;stroke:#1e1e1e;stroke-width:0.2px">5</text>
<text x="377.89" y="190.8" text-anchor="middle" style="font-family:'Liberation Serif', serif;font-size:8.5px;fill:#1e1e1e;stroke:#1e1e1e;stroke-width:0.2px">6</text>
<text x="390.48" y="190.8" text-anchor="middle" style="font-family:'Liberation Serif', serif;font-size:8.5px;fill:#1e1e1e;stroke:#1e1e1e;stroke-width:0.2px">7</text>
<text x="403.06" y="190.8" text-anchor="middle" style="font-family:'Liberation Serif', serif;font-size:8.5px;fill:#1e1e1e;stroke:#1e1e1e;stroke-width:0.2px">8</text>
<text x="415.64" y="190.8" text-anchor="middle" style="font-family:'Liberation Serif', serif;font-size:8.5px;fill:#1e1e1e;stroke:#1e1e1e;stroke-width:0.2px">9</text>
<text x="428.22" y="190.8" text-anchor="middle" style="font-family:'Liberation Serif', serif;font-size:8.5px;fill:#1e1e1e;stroke:#1e1e1e;stroke-width:0.2px">10</text>
<text x="440.81" y="190.8" text-anchor="middle" style="font-family:'Liberation Serif', serif;font-size:8.5px;fill:#1e1e1e;stroke:#1e1e1e;stroke-width:0.2px">11</text>
<text x="453.39" y="190.8" text-anchor="middle" style="font-family:'Liberation Serif', serif;font-size:8.5px;fill:#1e1e1e;stroke:#1e1e1e;stroke-width:0.2px">12</text>
<text x="465.97" y="190.8" text-anchor="middle" style="font-family:'Liberation Serif', serif;font-size:8.5px;fill:#1e1e1e;stroke:#1e1e1e;stroke-width:0.2px">13</text>
<text x="478.55" y="190.8" text-anchor="middle" style="font-family:'Liberation Serif', serif;font-size:8.5px;fill:#1e1e1e;stroke:#1e1e1e;stroke-width:0.2px">14</text>
<text x="491.14" y="190.8" text-anchor="middle" style="font-family:'Liberation Serif', serif;font-size:8.5px;fill:#1e1e1e;stroke:#1e1e1e;stroke-width:0.2px">15</text>
<text x="503.72" y="190.8" text-anchor="middle" style="font-family:'Liberation Serif', serif;font-size:8.5px;fill:#1e1e1e;stroke:#1e1e1e;stroke-width:0.2px">16</text>
<text x="516.3" y="190.8" text-anchor="middle" style="font-family:'Liberation Serif', serif;font-size:8.5px;fill:#1e1e1e;stroke:#1e1e1e;stroke-width:0.2px">17</text>
<text x="521.8" y="181" text-anchor="start" style="font-family:'Liberation Serif', serif;font-size:8.5px;fill:#1e1e1e;stroke:#1e1e1e;stroke-width:0.2px">0</text>
<text x="521.8" y="156.69" text-anchor="start" style="font-family:'Liberation Serif', serif;font-size:8.5px;fill:#1e1e1e;stroke:#1e1e1e;stroke-width:0.2px">10</text>
<text x="521.8" y="132.37" text-anchor="start" style="font-family:'Liberation Serif', serif;font-size:8.5px;fill:#1e1e1e;stroke:#1e1e1e;stroke-width:0.2px">20</text>
<text x="521.8" y="108.06" text-anchor="start" style="font-family:'Liberation Serif', serif;font-size:8.5px;fill:#1e1e1e;stroke:#1e1e1e;stroke-width:0.2px">30</text>
<text x="521.8" y="83.74" text-anchor="start" style="font-family:'Liberation Serif', serif;font-size:8.5px;fill:#1e1e1e;stroke:#1e1e1e;stroke-width:0.2px">40</text>
<text x="521.8" y="59.43" text-anchor="start" style="font-family:'Liberation Serif', serif;font-size:8.5px;fill:#1e1e1e;stroke:#1e1e1e;stroke-width:0.2px">50</text>
<text x="521.8" y="35.11" text-anchor="start" style="font-family:'Liberation Serif', serif;font-size:8.5px;fill:#1e1e1e;stroke:#1e1e1e;stroke-width:0.2px">60</text>
<text x="521.8" y="10.8" text-anchor="start" style="font-family:'Liberation Serif', serif;font-size:8.5px;fill:#1e1e1e;stroke:#1e1e1e;stroke-width:0.2px">70</text>
<text transform="translate(285.4 92.9) rotate(-90)" text-anchor="middle" style="font-family:'Liberation Serif', serif;font-size:9.7px;fill:#1e1e1e;stroke:#1e1e1e;stroke-width:0.18px">Lap energy dissipation (×10<tspan dy="-3.4" font-size="6.4">3</tspan><tspan dy="3.4">J)</tspan></text>
<text transform="translate(540.8 92.9) rotate(-90)" text-anchor="middle" style="font-family:'Liberation Serif', serif;font-size:9.7px;fill:#1e1e1e;stroke:#1e1e1e;stroke-width:0.18px">accumulated energy dissipation (×10<tspan dy="-3.4" font-size="6.4">3</tspan><tspan dy="3.4">J)</tspan></text>
<text x="409.35" y="199.4" text-anchor="middle" style="font-family:'Liberation Serif', serif;font-size:9.7px;fill:#1e1e1e;stroke:#1e1e1e;stroke-width:0.18px">Number of loading cycles</text>
<text x="380.4" y="210.9" style="font-family:'Liberation Serif', serif;font-size:11.8px;fill:#1a1a1a;stroke:#1a1a1a;stroke-width:0.18px">(b) RCS</text>
<rect x="423.5" y="206.7" width="2.7" height="1.0" fill="#333"/>
<text x="431.06" y="210.9" style="font-family:'Liberation Serif', serif;font-size:11.8px;fill:#1a1a1a;stroke:#1a1a1a;stroke-width:0.18px">1</text>
<path d="M 37.74 218.4 V 388 M 45.98 218.4 V 388 M 54.22 218.4 V 388 M 62.45 218.4 V 388 M 70.69 218.4 V 388 M 78.93 218.4 V 388 M 87.17 218.4 V 388 M 95.41 218.4 V 388 M 103.65 218.4 V 388 M 111.88 218.4 V 388 M 120.12 218.4 V 388 M 128.36 218.4 V 388 M 136.6 218.4 V 388 M 144.84 218.4 V 388 M 153.08 218.4 V 388 M 161.32 218.4 V 388 M 169.55 218.4 V 388 M 177.79 218.4 V 388 M 186.03 218.4 V 388 M 194.27 218.4 V 388 M 202.51 218.4 V 388 M 210.75 218.4 V 388 M 218.98 218.4 V 388 M 227.22 218.4 V 388 M 235.46 218.4 V 388 M 29.5 375.89 H 243.7 M 29.5 363.77 H 243.7 M 29.5 351.66 H 243.7 M 29.5 339.54 H 243.7 M 29.5 327.43 H 243.7 M 29.5 315.31 H 243.7 M 29.5 303.2 H 243.7 M 29.5 291.09 H 243.7 M 29.5 278.97 H 243.7 M 29.5 266.86 H 243.7 M 29.5 254.74 H 243.7 M 29.5 242.63 H 243.7 M 29.5 230.51 H 243.7" stroke="#ececec" stroke-width="0.5" fill="none"/>
<path d="M 49.8 268.7 L 65.2 252.6 L 73.7 252.6 C 83.46 242.84 101.07 238.7 112.6 238.7 L 98.8 252.6 C 85.19 266.2 60.9 268.7 49.8 268.7 Z" fill="url(#hatch)" stroke="none"/>
<path d="M 82.5 238.7 L 112.6 238.7 L 112.6 252.6 M 49.8 249.6 L 49.8 268.7 L 82.5 268.7" stroke="#555" stroke-width="0.5" stroke-dasharray="1,1" fill="none"/>
<path d="M 112.6 238.7 L 127.8 232.3 M 49.8 268.7 L 37.5 274.6" stroke="#888" stroke-width="0.5" fill="none"/>
<path d="M 118.7 236.5 L 127.8 236.5 L 127.8 232.3 Z M 46.5 270.9 L 37.5 270.9 L 37.5 274.7 Z" stroke="#777" stroke-width="0.6" fill="#fff"/>
<path d="M 49.8 268.7 L 65.2 252.6 M 73.7 252.6 C 83.46 242.84 101.07 238.7 112.6 238.7 L 98.8 252.6 C 85.19 266.2 60.9 268.7 49.8 268.7" stroke="#1a1a1a" stroke-width="1.05" fill="none"/>
<path d="M 63.9 239.8 L 78.1 248.3 M 91.2 254.7 L 105.2 264.9" stroke="#222" stroke-width="0.5" fill="none"/>
<path d="M 35.6 252.6 L 137 252.6 M 82.5 275.1 L 82.5 226.4" stroke="#3333ff" stroke-width="1.1" fill="none"/>
<path d="M 139 252.6 L 136 251.3 L 136 253.9 Z M 82.5 224.6 L 81.2 227.6 L 83.8 227.6 Z" fill="#3333ff"/>
<circle cx="65.2" cy="252.6" r="1.1" fill="#000"/><circle cx="73.7" cy="252.6" r="1.1" fill="#000"/>
<text x="51.9" y="228.9" style="font-family:'Liberation Serif', serif;font-size:5.8px;fill:#222" >Lateral load</text>
<text x="117.1" y="257.9" style="font-family:'Liberation Serif', serif;font-size:5.8px;fill:#222" >Displacement</text>
<text x="46.5" y="239.8" style="font-family:'Liberation Serif', serif;font-size:5.8px;fill:#222" >Cycle <tspan font-style="italic">i</tspan></text>
<text x="63.4" y="250.2" style="font-family:'Liberation Serif', serif;font-size:5.8px;fill:#222" >B</text>
<text x="69.9" y="250.2" style="font-family:'Liberation Serif', serif;font-size:5.8px;fill:#222" >A</text>
<text x="103.9" y="270" style="font-family:'Liberation Serif', serif;font-size:5.2px;fill:#222" >Area</text>
<text x="72.1" y="240.2" style="font-family:'Liberation Serif', serif;font-size:8.2px;font-style:italic;fill:#111" >F</text>
<text x="78.7" y="236" style="font-family:'Liberation Serif', serif;font-size:5.2px;fill:#222" >+</text>
<text x="76.5" y="241.8" style="font-family:'Liberation Serif', serif;font-size:4.8px;font-style:italic;fill:#222" >i</text>
<text x="84.4" y="273.2" style="font-family:'Liberation Serif', serif;font-size:8.2px;font-style:italic;fill:#111" >F</text>
<text x="91.8" y="268.2" style="font-family:'Liberation Serif', serif;font-size:5.2px;fill:#222" >−</text>
<text x="89" y="275" style="font-family:'Liberation Serif', serif;font-size:4.8px;font-style:italic;fill:#222" >i</text>
<text x="123.1" y="244.7" style="font-family:'Liberation Serif', serif;font-size:8.2px;font-style:italic;fill:#111" >K</text>
<text x="130.9" y="240.1" style="font-family:'Liberation Serif', serif;font-size:5.2px;fill:#222" >+</text>
<text x="130.1" y="246.7" style="font-family:'Liberation Serif', serif;font-size:4.8px;font-style:italic;fill:#222" >i</text>
<text x="36.7" y="265.9" style="font-family:'Liberation Serif', serif;font-size:8.2px;font-style:italic;fill:#111" >K</text>
<text x="44.3" y="261.3" style="font-family:'Liberation Serif', serif;font-size:5.2px;fill:#222" >−</text>
<text x="43.5" y="267.7" style="font-family:'Liberation Serif', serif;font-size:4.8px;font-style:italic;fill:#222" >i</text>
<text x="43.1" y="249.1" style="font-family:'Liberation Serif', serif;font-size:8.2px;fill:#111" >Δ</text>
<text x="49.9" y="244.5" style="font-family:'Liberation Serif', serif;font-size:5.2px;fill:#222" >−</text>
<text x="50.1" y="250.9" style="font-family:'Liberation Serif', serif;font-size:4.8px;font-style:italic;fill:#222" >i</text>
<text x="105.7" y="259.8" style="font-family:'Liberation Serif', serif;font-size:8.2px;fill:#111" >Δ</text>
<text x="112.2" y="256" style="font-family:'Liberation Serif', serif;font-size:5.2px;fill:#222" >+</text>
<text x="111.7" y="262.4" style="font-family:'Liberation Serif', serif;font-size:4.8px;font-style:italic;fill:#222" >i</text>
<text x="117.3" y="271.3" style="font-family:'Liberation Serif', serif;font-size:8.8px;font-style:italic;fill:#111" >E</text>
<text x="123.4" y="272.6" style="font-family:'Liberation Serif', serif;font-size:4.8px;font-style:italic;fill:#222" >i</text>
<text x="40.5" y="288.8" style="font-family:'Liberation Serif', serif;font-style:italic;fill:#111;font-size:8.2px">E</text>
<text x="45.8" y="290.4" style="font-family:'Liberation Serif', serif;font-style:italic;fill:#111;font-size:5.3px">total</text>
<rect x="57.9" y="285.6" width="4.6" height="0.75" fill="#222"/>
<rect x="57.9" y="287.4" width="4.6" height="0.75" fill="#222"/>
<text x="66.3" y="289.4" style="font-family:'Liberation Serif', serif;font-size:12px;fill:#111">∑</text>
<text x="69.4" y="280.7" style="font-family:'Liberation Serif', serif;font-style:italic;fill:#111;font-size:4.2px">n</text>
<text x="68" y="295.5" style="font-family:'Liberation Serif', serif;font-style:italic;fill:#111;font-size:4.2px">i</text><text x="69.2" y="295.5" style="font-family:'Liberation Serif', serif;font-size:4.2px;fill:#111">=1</text>
<text x="77.3" y="288.8" style="font-family:'Liberation Serif', serif;font-style:italic;fill:#111;font-size:8.2px">E</text>
<text x="83.7" y="290.7" style="font-family:'Liberation Serif', serif;font-style:italic;fill:#111;font-size:4.8px">i</text>
<rect x="39.39" y="382.67" width="13.18" height="5.33" fill="#4646f6" stroke="#e01a1a" stroke-width="0.6"/>
<rect x="55.86" y="385.82" width="13.18" height="2.18" fill="#4646f6" stroke="#e01a1a" stroke-width="0.6"/>
<rect x="72.34" y="378.19" width="13.18" height="9.81" fill="#4646f6" stroke="#e01a1a" stroke-width="0.6"/>
<rect x="88.82" y="379.64" width="13.18" height="8.36" fill="#4646f6" stroke="#e01a1a" stroke-width="0.6"/>
<rect x="105.29" y="356.26" width="13.18" height="31.74" fill="#4646f6" stroke="#e01a1a" stroke-width="0.6"/>
<rect x="121.77" y="362.44" width="13.18" height="25.56" fill="#4646f6" stroke="#e01a1a" stroke-width="0.6"/>
<rect x="138.25" y="335.55" width="13.18" height="52.45" fill="#4646f6" stroke="#e01a1a" stroke-width="0.6"/>
<rect x="154.72" y="341.97" width="13.18" height="46.03" fill="#4646f6" stroke="#e01a1a" stroke-width="0.6"/>
<rect x="171.2" y="308.05" width="13.18" height="79.95" fill="#4646f6" stroke="#e01a1a" stroke-width="0.6"/>
<rect x="187.68" y="312.29" width="13.18" height="75.71" fill="#4646f6" stroke="#e01a1a" stroke-width="0.6"/>
<rect x="204.16" y="279.58" width="13.18" height="108.42" fill="#4646f6" stroke="#e01a1a" stroke-width="0.6"/>
<rect x="220.63" y="286.24" width="13.18" height="101.76" fill="#4646f6" stroke="#e01a1a" stroke-width="0.6"/>
<rect x="39.39" y="386.43" width="13.18" height="1.57" fill="rgba(255,0,0,0.74)" stroke="#d00000" stroke-width="0.6"/>
<rect x="55.86" y="386.79" width="13.18" height="1.21" fill="rgba(255,0,0,0.74)" stroke="#d00000" stroke-width="0.6"/>
<rect x="72.34" y="383.15" width="13.18" height="4.85" fill="rgba(255,0,0,0.74)" stroke="#d00000" stroke-width="0.6"/>
<rect x="88.82" y="381.94" width="13.18" height="6.06" fill="rgba(255,0,0,0.74)" stroke="#d00000" stroke-width="0.6"/>
<rect x="105.29" y="362.44" width="13.18" height="25.56" fill="rgba(255,0,0,0.74)" stroke="#d00000" stroke-width="0.6"/>
<rect x="121.77" y="365.47" width="13.18" height="22.53" fill="rgba(255,0,0,0.74)" stroke="#d00000" stroke-width="0.6"/>
<rect x="138.25" y="338.45" width="13.18" height="49.55" fill="rgba(255,0,0,0.74)" stroke="#d00000" stroke-width="0.6"/>
<rect x="154.72" y="343.9" width="13.18" height="44.1" fill="rgba(255,0,0,0.74)" stroke="#d00000" stroke-width="0.6"/>
<rect x="171.2" y="313.25" width="13.18" height="74.75" fill="rgba(255,0,0,0.74)" stroke="#d00000" stroke-width="0.6"/>
<rect x="187.68" y="318.34" width="13.18" height="69.66" fill="rgba(255,0,0,0.74)" stroke="#d00000" stroke-width="0.6"/>
<rect x="204.16" y="288.66" width="13.18" height="99.34" fill="rgba(255,0,0,0.74)" stroke="#d00000" stroke-width="0.6"/>
<rect x="220.63" y="291.09" width="13.18" height="96.91" fill="rgba(255,0,0,0.74)" stroke="#d00000" stroke-width="0.6"/>
<polyline points="45.98,386.93 62.45,386.5 78.93,384.54 95.41,382.86 111.88,376.52 128.36,371.4 144.84,360.91 161.32,351.71 177.79,335.71 194.27,320.57 210.75,298.89 227.22,278.54" fill="none" stroke="#0a0aff" stroke-width="1.9" stroke-linejoin="round"/>
<rect x="43.78" y="384.73" width="4.4" height="4.4" fill="#0a0aff"/>
<rect x="60.25" y="384.3" width="4.4" height="4.4" fill="#0a0aff"/>
<rect x="76.73" y="382.34" width="4.4" height="4.4" fill="#0a0aff"/>
<rect x="93.21" y="380.66" width="4.4" height="4.4" fill="#0a0aff"/>
<rect x="109.68" y="374.32" width="4.4" height="4.4" fill="#0a0aff"/>
<rect x="126.16" y="369.2" width="4.4" height="4.4" fill="#0a0aff"/>
<rect x="142.64" y="358.71" width="4.4" height="4.4" fill="#0a0aff"/>
<rect x="159.12" y="349.51" width="4.4" height="4.4" fill="#0a0aff"/>
<rect x="175.59" y="333.51" width="4.4" height="4.4" fill="#0a0aff"/>
<rect x="192.07" y="318.37" width="4.4" height="4.4" fill="#0a0aff"/>
<rect x="208.55" y="296.69" width="4.4" height="4.4" fill="#0a0aff"/>
<rect x="225.02" y="276.34" width="4.4" height="4.4" fill="#0a0aff"/>
<polyline points="45.98,387.69 62.45,387.44 78.93,386.47 95.41,385.26 111.88,380.15 128.36,375.64 144.84,365.73 161.32,356.91 177.79,341.97 194.27,328.03 210.75,308.17 227.22,288.78" fill="none" stroke="#ff1010" stroke-width="1.9" stroke-linejoin="round"/>
<circle cx="45.98" cy="387.69" r="2.3" fill="#ff1010"/>
<circle cx="62.45" cy="387.44" r="2.3" fill="#ff1010"/>
<circle cx="78.93" cy="386.47" r="2.3" fill="#ff1010"/>
<circle cx="95.41" cy="385.26" r="2.3" fill="#ff1010"/>
<circle cx="111.88" cy="380.15" r="2.3" fill="#ff1010"/>
<circle cx="128.36" cy="375.64" r="2.3" fill="#ff1010"/>
<circle cx="144.84" cy="365.73" r="2.3" fill="#ff1010"/>
<circle cx="161.32" cy="356.91" r="2.3" fill="#ff1010"/>
<circle cx="177.79" cy="341.97" r="2.3" fill="#ff1010"/>
<circle cx="194.27" cy="328.03" r="2.3" fill="#ff1010"/>
<circle cx="210.75" cy="308.17" r="2.3" fill="#ff1010"/>
<circle cx="227.22" cy="288.78" r="2.3" fill="#ff1010"/>
<path d="M 29.5 218.4 V 388 H 243.7" stroke="#111" stroke-width="1.1" fill="none"/>
<path d="M 29.5 218.4 H 243.7" stroke="#111" stroke-width="1.0" fill="none"/>
<path d="M 243.7 218.4 V 388" stroke="#555" stroke-width="1.1" fill="none"/>
<path d="M 26.5 388 H 29.5 M 27.9 375.89 H 29.5 M 26.5 363.77 H 29.5 M 27.9 351.66 H 29.5 M 26.5 339.54 H 29.5 M 27.9 327.43 H 29.5 M 26.5 315.31 H 29.5 M 27.9 303.2 H 29.5 M 26.5 291.09 H 29.5 M 27.9 278.97 H 29.5 M 26.5 266.86 H 29.5 M 27.9 254.74 H 29.5 M 26.5 242.63 H 29.5 M 27.9 230.51 H 29.5 M 26.5 218.4 H 29.5 M 29.5 388 V 391 M 37.74 388 V 389.6 M 45.98 388 V 391 M 54.22 388 V 389.6 M 62.45 388 V 391 M 70.69 388 V 389.6 M 78.93 388 V 391 M 87.17 388 V 389.6 M 95.41 388 V 391 M 103.65 388 V 389.6 M 111.88 388 V 391 M 120.12 388 V 389.6 M 128.36 388 V 391 M 136.6 388 V 389.6 M 144.84 388 V 391 M 153.08 388 V 389.6 M 161.32 388 V 391 M 169.55 388 V 389.6 M 177.79 388 V 391 M 186.03 388 V 389.6 M 194.27 388 V 391 M 202.51 388 V 389.6 M 210.75 388 V 391 M 218.98 388 V 389.6 M 227.22 388 V 391 M 235.46 388 V 389.6 M 243.7 388 V 391" stroke="#111" stroke-width="1" fill="none"/>
<path d="M 243.7 388 H 246.7 M 243.7 375.89 H 245.3 M 243.7 363.77 H 246.7 M 243.7 351.66 H 245.3 M 243.7 339.54 H 246.7 M 243.7 327.43 H 245.3 M 243.7 315.31 H 246.7 M 243.7 303.2 H 245.3 M 243.7 291.09 H 246.7 M 243.7 278.97 H 245.3 M 243.7 266.86 H 246.7 M 243.7 254.74 H 245.3 M 243.7 242.63 H 246.7 M 243.7 230.51 H 245.3 M 243.7 218.4 H 246.7" stroke="#333" stroke-width="1" fill="none"/>
<text x="23.5" y="391" text-anchor="end" style="font-family:'Liberation Serif', serif;font-size:8.5px;fill:#1e1e1e;stroke:#1e1e1e;stroke-width:0.2px">0</text>
<text x="23.5" y="366.77" text-anchor="end" style="font-family:'Liberation Serif', serif;font-size:8.5px;fill:#1e1e1e;stroke:#1e1e1e;stroke-width:0.2px">2</text>
<text x="23.5" y="342.54" text-anchor="end" style="font-family:'Liberation Serif', serif;font-size:8.5px;fill:#1e1e1e;stroke:#1e1e1e;stroke-width:0.2px">4</text>
<text x="23.5" y="318.31" text-anchor="end" style="font-family:'Liberation Serif', serif;font-size:8.5px;fill:#1e1e1e;stroke:#1e1e1e;stroke-width:0.2px">6</text>
<text x="23.5" y="294.09" text-anchor="end" style="font-family:'Liberation Serif', serif;font-size:8.5px;fill:#1e1e1e;stroke:#1e1e1e;stroke-width:0.2px">8</text>
<text x="23.5" y="269.86" text-anchor="end" style="font-family:'Liberation Serif', serif;font-size:8.5px;fill:#1e1e1e;stroke:#1e1e1e;stroke-width:0.2px">10</text>
<text x="23.5" y="245.63" text-anchor="end" style="font-family:'Liberation Serif', serif;font-size:8.5px;fill:#1e1e1e;stroke:#1e1e1e;stroke-width:0.2px">12</text>
<text x="23.5" y="221.4" text-anchor="end" style="font-family:'Liberation Serif', serif;font-size:8.5px;fill:#1e1e1e;stroke:#1e1e1e;stroke-width:0.2px">14</text>
<text x="29.5" y="400.8" text-anchor="middle" style="font-family:'Liberation Serif', serif;font-size:8.5px;fill:#1e1e1e;stroke:#1e1e1e;stroke-width:0.2px">0</text>
<text x="45.98" y="400.8" text-anchor="middle" style="font-family:'Liberation Serif', serif;font-size:8.5px;fill:#1e1e1e;stroke:#1e1e1e;stroke-width:0.2px">1</text>
<text x="62.45" y="400.8" text-anchor="middle" style="font-family:'Liberation Serif', serif;font-size:8.5px;fill:#1e1e1e;stroke:#1e1e1e;stroke-width:0.2px">2</text>
<text x="78.93" y="400.8" text-anchor="middle" style="font-family:'Liberation Serif', serif;font-size:8.5px;fill:#1e1e1e;stroke:#1e1e1e;stroke-width:0.2px">3</text>
<text x="95.41" y="400.8" text-anchor="middle" style="font-family:'Liberation Serif', serif;font-size:8.5px;fill:#1e1e1e;stroke:#1e1e1e;stroke-width:0.2px">4</text>
<text x="111.88" y="400.8" text-anchor="middle" style="font-family:'Liberation Serif', serif;font-size:8.5px;fill:#1e1e1e;stroke:#1e1e1e;stroke-width:0.2px">5</text>
<text x="128.36" y="400.8" text-anchor="middle" style="font-family:'Liberation Serif', serif;font-size:8.5px;fill:#1e1e1e;stroke:#1e1e1e;stroke-width:0.2px">6</text>
<text x="144.84" y="400.8" text-anchor="middle" style="font-family:'Liberation Serif', serif;font-size:8.5px;fill:#1e1e1e;stroke:#1e1e1e;stroke-width:0.2px">7</text>
<text x="161.32" y="400.8" text-anchor="middle" style="font-family:'Liberation Serif', serif;font-size:8.5px;fill:#1e1e1e;stroke:#1e1e1e;stroke-width:0.2px">8</text>
<text x="177.79" y="400.8" text-anchor="middle" style="font-family:'Liberation Serif', serif;font-size:8.5px;fill:#1e1e1e;stroke:#1e1e1e;stroke-width:0.2px">9</text>
<text x="194.27" y="400.8" text-anchor="middle" style="font-family:'Liberation Serif', serif;font-size:8.5px;fill:#1e1e1e;stroke:#1e1e1e;stroke-width:0.2px">10</text>
<text x="210.75" y="400.8" text-anchor="middle" style="font-family:'Liberation Serif', serif;font-size:8.5px;fill:#1e1e1e;stroke:#1e1e1e;stroke-width:0.2px">11</text>
<text x="227.22" y="400.8" text-anchor="middle" style="font-family:'Liberation Serif', serif;font-size:8.5px;fill:#1e1e1e;stroke:#1e1e1e;stroke-width:0.2px">12</text>
<text x="243.7" y="400.8" text-anchor="middle" style="font-family:'Liberation Serif', serif;font-size:8.5px;fill:#1e1e1e;stroke:#1e1e1e;stroke-width:0.2px">13</text>
<text x="249.2" y="391" text-anchor="start" style="font-family:'Liberation Serif', serif;font-size:8.5px;fill:#1e1e1e;stroke:#1e1e1e;stroke-width:0.2px">0</text>
<text x="249.2" y="366.77" text-anchor="start" style="font-family:'Liberation Serif', serif;font-size:8.5px;fill:#1e1e1e;stroke:#1e1e1e;stroke-width:0.2px">10</text>
<text x="249.2" y="342.54" text-anchor="start" style="font-family:'Liberation Serif', serif;font-size:8.5px;fill:#1e1e1e;stroke:#1e1e1e;stroke-width:0.2px">20</text>
<text x="249.2" y="318.31" text-anchor="start" style="font-family:'Liberation Serif', serif;font-size:8.5px;fill:#1e1e1e;stroke:#1e1e1e;stroke-width:0.2px">30</text>
<text x="249.2" y="294.09" text-anchor="start" style="font-family:'Liberation Serif', serif;font-size:8.5px;fill:#1e1e1e;stroke:#1e1e1e;stroke-width:0.2px">40</text>
<text x="249.2" y="269.86" text-anchor="start" style="font-family:'Liberation Serif', serif;font-size:8.5px;fill:#1e1e1e;stroke:#1e1e1e;stroke-width:0.2px">50</text>
<text x="249.2" y="245.63" text-anchor="start" style="font-family:'Liberation Serif', serif;font-size:8.5px;fill:#1e1e1e;stroke:#1e1e1e;stroke-width:0.2px">60</text>
<text x="249.2" y="221.4" text-anchor="start" style="font-family:'Liberation Serif', serif;font-size:8.5px;fill:#1e1e1e;stroke:#1e1e1e;stroke-width:0.2px">70</text>
<text transform="translate(11.5 303.2) rotate(-90)" text-anchor="middle" style="font-family:'Liberation Serif', serif;font-size:9.7px;fill:#1e1e1e;stroke:#1e1e1e;stroke-width:0.18px">Lap energy dissipation (×10<tspan dy="-3.4" font-size="6.4">3</tspan><tspan dy="3.4">J)</tspan></text>
<text transform="translate(269.7 303.2) rotate(-90)" text-anchor="middle" style="font-family:'Liberation Serif', serif;font-size:9.7px;fill:#1e1e1e;stroke:#1e1e1e;stroke-width:0.18px">accumulated energy dissipation (×10<tspan dy="-3.4" font-size="6.4">3</tspan><tspan dy="3.4">J)</tspan></text>
<text x="136.6" y="409.4" text-anchor="middle" style="font-family:'Liberation Serif', serif;font-size:9.7px;fill:#1e1e1e;stroke:#1e1e1e;stroke-width:0.18px">Number of loading cycles</text>
<text x="98" y="423.3" style="font-family:'Liberation Serif', serif;font-size:11.8px;fill:#1a1a1a;stroke:#1a1a1a;stroke-width:0.18px">(c) RCS</text>
<rect x="140.5" y="419.3" width="3" height="1.0" fill="#333"/>
<text x="148.28" y="423.3" style="font-family:'Liberation Serif', serif;font-size:11.8px;fill:#1a1a1a;stroke:#1a1a1a;stroke-width:0.18px">2</text>
<path d="M 310.85 218.1 V 388.3 M 318 218.1 V 388.3 M 325.15 218.1 V 388.3 M 332.3 218.1 V 388.3 M 339.45 218.1 V 388.3 M 346.6 218.1 V 388.3 M 353.75 218.1 V 388.3 M 360.9 218.1 V 388.3 M 368.05 218.1 V 388.3 M 375.2 218.1 V 388.3 M 382.35 218.1 V 388.3 M 389.5 218.1 V 388.3 M 396.65 218.1 V 388.3 M 403.8 218.1 V 388.3 M 410.95 218.1 V 388.3 M 418.1 218.1 V 388.3 M 425.25 218.1 V 388.3 M 432.4 218.1 V 388.3 M 439.55 218.1 V 388.3 M 446.7 218.1 V 388.3 M 453.85 218.1 V 388.3 M 461 218.1 V 388.3 M 468.15 218.1 V 388.3 M 475.3 218.1 V 388.3 M 482.45 218.1 V 388.3 M 489.6 218.1 V 388.3 M 496.75 218.1 V 388.3 M 503.9 218.1 V 388.3 M 511.05 218.1 V 388.3 M 303.7 376.14 H 518.2 M 303.7 363.99 H 518.2 M 303.7 351.83 H 518.2 M 303.7 339.67 H 518.2 M 303.7 327.51 H 518.2 M 303.7 315.36 H 518.2 M 303.7 303.2 H 518.2 M 303.7 291.04 H 518.2 M 303.7 278.89 H 518.2 M 303.7 266.73 H 518.2 M 303.7 254.57 H 518.2 M 303.7 242.41 H 518.2 M 303.7 230.26 H 518.2" stroke="#ececec" stroke-width="0.5" fill="none"/>
<path d="M 324 268.4 L 339.4 252.3 L 347.9 252.3 C 357.66 242.54 375.27 238.4 386.8 238.4 L 373 252.3 C 359.39 265.9 335.1 268.4 324 268.4 Z" fill="url(#hatch)" stroke="none"/>
<path d="M 356.7 238.4 L 386.8 238.4 L 386.8 252.3 M 324 249.3 L 324 268.4 L 356.7 268.4" stroke="#555" stroke-width="0.5" stroke-dasharray="1,1" fill="none"/>
<path d="M 386.8 238.4 L 402 232 M 324 268.4 L 311.7 274.3" stroke="#888" stroke-width="0.5" fill="none"/>
<path d="M 392.9 236.2 L 402 236.2 L 402 232 Z M 320.7 270.6 L 311.7 270.6 L 311.7 274.4 Z" stroke="#777" stroke-width="0.6" fill="#fff"/>
<path d="M 324 268.4 L 339.4 252.3 M 347.9 252.3 C 357.66 242.54 375.27 238.4 386.8 238.4 L 373 252.3 C 359.39 265.9 335.1 268.4 324 268.4" stroke="#1a1a1a" stroke-width="1.05" fill="none"/>
<path d="M 338.1 239.5 L 352.3 248 M 365.4 254.4 L 379.4 264.6" stroke="#222" stroke-width="0.5" fill="none"/>
<path d="M 309.8 252.3 L 411.2 252.3 M 356.7 274.8 L 356.7 226.1" stroke="#3333ff" stroke-width="1.1" fill="none"/>
<path d="M 413.2 252.3 L 410.2 251 L 410.2 253.6 Z M 356.7 224.3 L 355.4 227.3 L 358 227.3 Z" fill="#3333ff"/>
<circle cx="339.4" cy="252.3" r="1.1" fill="#000"/><circle cx="347.9" cy="252.3" r="1.1" fill="#000"/>
<text x="326.1" y="228.6" style="font-family:'Liberation Serif', serif;font-size:5.8px;fill:#222" >Lateral load</text>
<text x="391.3" y="257.6" style="font-family:'Liberation Serif', serif;font-size:5.8px;fill:#222" >Displacement</text>
<text x="320.7" y="239.5" style="font-family:'Liberation Serif', serif;font-size:5.8px;fill:#222" >Cycle <tspan font-style="italic">i</tspan></text>
<text x="337.6" y="249.9" style="font-family:'Liberation Serif', serif;font-size:5.8px;fill:#222" >B</text>
<text x="344.1" y="249.9" style="font-family:'Liberation Serif', serif;font-size:5.8px;fill:#222" >A</text>
<text x="378.1" y="269.7" style="font-family:'Liberation Serif', serif;font-size:5.2px;fill:#222" >Area</text>
<text x="346.3" y="239.9" style="font-family:'Liberation Serif', serif;font-size:8.2px;font-style:italic;fill:#111" >F</text>
<text x="352.9" y="235.7" style="font-family:'Liberation Serif', serif;font-size:5.2px;fill:#222" >+</text>
<text x="350.7" y="241.5" style="font-family:'Liberation Serif', serif;font-size:4.8px;font-style:italic;fill:#222" >i</text>
<text x="358.6" y="272.9" style="font-family:'Liberation Serif', serif;font-size:8.2px;font-style:italic;fill:#111" >F</text>
<text x="366" y="267.9" style="font-family:'Liberation Serif', serif;font-size:5.2px;fill:#222" >−</text>
<text x="363.2" y="274.7" style="font-family:'Liberation Serif', serif;font-size:4.8px;font-style:italic;fill:#222" >i</text>
<text x="397.3" y="244.4" style="font-family:'Liberation Serif', serif;font-size:8.2px;font-style:italic;fill:#111" >K</text>
<text x="405.1" y="239.8" style="font-family:'Liberation Serif', serif;font-size:5.2px;fill:#222" >+</text>
<text x="404.3" y="246.4" style="font-family:'Liberation Serif', serif;font-size:4.8px;font-style:italic;fill:#222" >i</text>
<text x="310.9" y="265.6" style="font-family:'Liberation Serif', serif;font-size:8.2px;font-style:italic;fill:#111" >K</text>
<text x="318.5" y="261" style="font-family:'Liberation Serif', serif;font-size:5.2px;fill:#222" >−</text>
<text x="317.7" y="267.4" style="font-family:'Liberation Serif', serif;font-size:4.8px;font-style:italic;fill:#222" >i</text>
<text x="317.3" y="248.8" style="font-family:'Liberation Serif', serif;font-size:8.2px;fill:#111" >Δ</text>
<text x="324.1" y="244.2" style="font-family:'Liberation Serif', serif;font-size:5.2px;fill:#222" >−</text>
<text x="324.3" y="250.6" style="font-family:'Liberation Serif', serif;font-size:4.8px;font-style:italic;fill:#222" >i</text>
<text x="379.9" y="259.5" style="font-family:'Liberation Serif', serif;font-size:8.2px;fill:#111" >Δ</text>
<text x="386.4" y="255.7" style="font-family:'Liberation Serif', serif;font-size:5.2px;fill:#222" >+</text>
<text x="385.9" y="262.1" style="font-family:'Liberation Serif', serif;font-size:4.8px;font-style:italic;fill:#222" >i</text>
<text x="391.5" y="271" style="font-family:'Liberation Serif', serif;font-size:8.8px;font-style:italic;fill:#111" >E</text>
<text x="397.6" y="272.3" style="font-family:'Liberation Serif', serif;font-size:4.8px;font-style:italic;fill:#222" >i</text>
<text x="314.7" y="288.5" style="font-family:'Liberation Serif', serif;font-style:italic;fill:#111;font-size:8.2px">E</text>
<text x="320" y="290.1" style="font-family:'Liberation Serif', serif;font-style:italic;fill:#111;font-size:5.3px">total</text>
<rect x="332.1" y="285.3" width="4.6" height="0.75" fill="#222"/>
<rect x="332.1" y="287.1" width="4.6" height="0.75" fill="#222"/>
<text x="340.5" y="289.1" style="font-family:'Liberation Serif', serif;font-size:12px;fill:#111">∑</text>
<text x="343.6" y="280.4" style="font-family:'Liberation Serif', serif;font-style:italic;fill:#111;font-size:4.2px">n</text>
<text x="342.2" y="295.2" style="font-family:'Liberation Serif', serif;font-style:italic;fill:#111;font-size:4.2px">i</text><text x="343.4" y="295.2" style="font-family:'Liberation Serif', serif;font-size:4.2px;fill:#111">=1</text>
<text x="351.5" y="288.5" style="font-family:'Liberation Serif', serif;font-style:italic;fill:#111;font-size:8.2px">E</text>
<text x="357.9" y="290.4" style="font-family:'Liberation Serif', serif;font-style:italic;fill:#111;font-size:4.8px">i</text>
<rect x="312.28" y="387.08" width="11.44" height="1.22" fill="#4646f6" stroke="#e01a1a" stroke-width="0.6"/>
<rect x="326.58" y="387.08" width="11.44" height="1.22" fill="#4646f6" stroke="#e01a1a" stroke-width="0.6"/>
<rect x="340.88" y="382.46" width="11.44" height="5.84" fill="#4646f6" stroke="#e01a1a" stroke-width="0.6"/>
<rect x="355.18" y="383.92" width="11.44" height="4.38" fill="#4646f6" stroke="#e01a1a" stroke-width="0.6"/>
<rect x="369.48" y="369.58" width="11.44" height="18.72" fill="#4646f6" stroke="#e01a1a" stroke-width="0.6"/>
<rect x="383.78" y="374.44" width="11.44" height="13.86" fill="#4646f6" stroke="#e01a1a" stroke-width="0.6"/>
<rect x="398.08" y="352.56" width="11.44" height="35.74" fill="#4646f6" stroke="#e01a1a" stroke-width="0.6"/>
<rect x="412.38" y="363.38" width="11.44" height="24.92" fill="#4646f6" stroke="#e01a1a" stroke-width="0.6"/>
<rect x="426.68" y="333.47" width="11.44" height="54.83" fill="#4646f6" stroke="#e01a1a" stroke-width="0.6"/>
<rect x="440.98" y="348.06" width="11.44" height="40.24" fill="#4646f6" stroke="#e01a1a" stroke-width="0.6"/>
<rect x="455.28" y="305.51" width="11.44" height="82.79" fill="#4646f6" stroke="#e01a1a" stroke-width="0.6"/>
<rect x="469.58" y="308.43" width="11.44" height="79.87" fill="#4646f6" stroke="#e01a1a" stroke-width="0.6"/>
<rect x="483.88" y="276.21" width="11.44" height="112.09" fill="#4646f6" stroke="#e01a1a" stroke-width="0.6"/>
<rect x="498.18" y="305.51" width="11.44" height="82.79" fill="#4646f6" stroke="#e01a1a" stroke-width="0.6"/>
<rect x="312.28" y="387.69" width="11.44" height="0.61" fill="rgba(255,0,0,0.74)" stroke="#d00000" stroke-width="0.6"/>
<rect x="326.58" y="387.69" width="11.44" height="0.61" fill="rgba(255,0,0,0.74)" stroke="#d00000" stroke-width="0.6"/>
<rect x="340.88" y="385.87" width="11.44" height="2.43" fill="rgba(255,0,0,0.74)" stroke="#d00000" stroke-width="0.6"/>
<rect x="355.18" y="385.26" width="11.44" height="3.04" fill="rgba(255,0,0,0.74)" stroke="#d00000" stroke-width="0.6"/>
<rect x="369.48" y="375.41" width="11.44" height="12.89" fill="rgba(255,0,0,0.74)" stroke="#d00000" stroke-width="0.6"/>
<rect x="383.78" y="376.51" width="11.44" height="11.79" fill="rgba(255,0,0,0.74)" stroke="#d00000" stroke-width="0.6"/>
<rect x="398.08" y="363.99" width="11.44" height="24.31" fill="rgba(255,0,0,0.74)" stroke="#d00000" stroke-width="0.6"/>
<rect x="412.38" y="367.39" width="11.44" height="20.91" fill="rgba(255,0,0,0.74)" stroke="#d00000" stroke-width="0.6"/>
<rect x="426.68" y="346.6" width="11.44" height="41.7" fill="rgba(255,0,0,0.74)" stroke="#d00000" stroke-width="0.6"/>
<rect x="440.98" y="355.84" width="11.44" height="32.46" fill="rgba(255,0,0,0.74)" stroke="#d00000" stroke-width="0.6"/>
<rect x="455.28" y="327.15" width="11.44" height="61.15" fill="rgba(255,0,0,0.74)" stroke="#d00000" stroke-width="0.6"/>
<rect x="469.58" y="334.57" width="11.44" height="53.73" fill="rgba(255,0,0,0.74)" stroke="#d00000" stroke-width="0.6"/>
<rect x="483.88" y="300.65" width="11.44" height="87.65" fill="rgba(255,0,0,0.74)" stroke="#d00000" stroke-width="0.6"/>
<rect x="498.18" y="309.28" width="11.44" height="79.02" fill="rgba(255,0,0,0.74)" stroke="#d00000" stroke-width="0.6"/>
<polyline points="318,388.06 332.3,387.81 346.6,386.65 360.9,385.77 375.2,382.03 389.5,379.26 403.8,372.11 418.1,367.12 432.4,356.16 446.7,348.11 461,331.55 475.3,315.58 489.6,293.16 503.9,276.6" fill="none" stroke="#0a0aff" stroke-width="1.9" stroke-linejoin="round"/>
<rect x="315.8" y="385.86" width="4.4" height="4.4" fill="#0a0aff"/>
<rect x="330.1" y="385.61" width="4.4" height="4.4" fill="#0a0aff"/>
<rect x="344.4" y="384.45" width="4.4" height="4.4" fill="#0a0aff"/>
<rect x="358.7" y="383.57" width="4.4" height="4.4" fill="#0a0aff"/>
<rect x="373" y="379.83" width="4.4" height="4.4" fill="#0a0aff"/>
<rect x="387.3" y="377.06" width="4.4" height="4.4" fill="#0a0aff"/>
<rect x="401.6" y="369.91" width="4.4" height="4.4" fill="#0a0aff"/>
<rect x="415.9" y="364.92" width="4.4" height="4.4" fill="#0a0aff"/>
<rect x="430.2" y="353.96" width="4.4" height="4.4" fill="#0a0aff"/>
<rect x="444.5" y="345.91" width="4.4" height="4.4" fill="#0a0aff"/>
<rect x="458.8" y="329.35" width="4.4" height="4.4" fill="#0a0aff"/>
<rect x="473.1" y="313.38" width="4.4" height="4.4" fill="#0a0aff"/>
<rect x="487.4" y="290.96" width="4.4" height="4.4" fill="#0a0aff"/>
<rect x="501.7" y="274.4" width="4.4" height="4.4" fill="#0a0aff"/>
<polyline points="318,388.18 332.3,388.06 346.6,387.57 360.9,386.96 375.2,384.39 389.5,382.03 403.8,377.16 418.1,372.98 432.4,364.64 446.7,358.15 461,345.92 475.3,335.17 489.6,317.64 503.9,301.84" fill="none" stroke="#ff1010" stroke-width="1.9" stroke-linejoin="round"/>
<circle cx="318" cy="388.18" r="2.3" fill="#ff1010"/>
<circle cx="332.3" cy="388.06" r="2.3" fill="#ff1010"/>
<circle cx="346.6" cy="387.57" r="2.3" fill="#ff1010"/>
<circle cx="360.9" cy="386.96" r="2.3" fill="#ff1010"/>
<circle cx="375.2" cy="384.39" r="2.3" fill="#ff1010"/>
<circle cx="389.5" cy="382.03" r="2.3" fill="#ff1010"/>
<circle cx="403.8" cy="377.16" r="2.3" fill="#ff1010"/>
<circle cx="418.1" cy="372.98" r="2.3" fill="#ff1010"/>
<circle cx="432.4" cy="364.64" r="2.3" fill="#ff1010"/>
<circle cx="446.7" cy="358.15" r="2.3" fill="#ff1010"/>
<circle cx="461" cy="345.92" r="2.3" fill="#ff1010"/>
<circle cx="475.3" cy="335.17" r="2.3" fill="#ff1010"/>
<circle cx="489.6" cy="317.64" r="2.3" fill="#ff1010"/>
<circle cx="503.9" cy="301.84" r="2.3" fill="#ff1010"/>
<path d="M 303.7 218.1 V 388.3 H 518.2" stroke="#111" stroke-width="1.1" fill="none"/>
<path d="M 303.7 218.1 H 518.2" stroke="#111" stroke-width="1.0" fill="none"/>
<path d="M 518.2 218.1 V 388.3" stroke="#555" stroke-width="1.1" fill="none"/>
<path d="M 300.7 388.3 H 303.7 M 302.1 376.14 H 303.7 M 300.7 363.99 H 303.7 M 302.1 351.83 H 303.7 M 300.7 339.67 H 303.7 M 302.1 327.51 H 303.7 M 300.7 315.36 H 303.7 M 302.1 303.2 H 303.7 M 300.7 291.04 H 303.7 M 302.1 278.89 H 303.7 M 300.7 266.73 H 303.7 M 302.1 254.57 H 303.7 M 300.7 242.41 H 303.7 M 302.1 230.26 H 303.7 M 300.7 218.1 H 303.7 M 303.7 388.3 V 391.3 M 310.85 388.3 V 389.9 M 318 388.3 V 391.3 M 325.15 388.3 V 389.9 M 332.3 388.3 V 391.3 M 339.45 388.3 V 389.9 M 346.6 388.3 V 391.3 M 353.75 388.3 V 389.9 M 360.9 388.3 V 391.3 M 368.05 388.3 V 389.9 M 375.2 388.3 V 391.3 M 382.35 388.3 V 389.9 M 389.5 388.3 V 391.3 M 396.65 388.3 V 389.9 M 403.8 388.3 V 391.3 M 410.95 388.3 V 389.9 M 418.1 388.3 V 391.3 M 425.25 388.3 V 389.9 M 432.4 388.3 V 391.3 M 439.55 388.3 V 389.9 M 446.7 388.3 V 391.3 M 453.85 388.3 V 389.9 M 461 388.3 V 391.3 M 468.15 388.3 V 389.9 M 475.3 388.3 V 391.3 M 482.45 388.3 V 389.9 M 489.6 388.3 V 391.3 M 496.75 388.3 V 389.9 M 503.9 388.3 V 391.3 M 511.05 388.3 V 389.9 M 518.2 388.3 V 391.3" stroke="#111" stroke-width="1" fill="none"/>
<path d="M 518.2 388.3 H 521.2 M 518.2 376.14 H 519.8 M 518.2 363.99 H 521.2 M 518.2 351.83 H 519.8 M 518.2 339.67 H 521.2 M 518.2 327.51 H 519.8 M 518.2 315.36 H 521.2 M 518.2 303.2 H 519.8 M 518.2 291.04 H 521.2 M 518.2 278.89 H 519.8 M 518.2 266.73 H 521.2 M 518.2 254.57 H 519.8 M 518.2 242.41 H 521.2 M 518.2 230.26 H 519.8 M 518.2 218.1 H 521.2" stroke="#333" stroke-width="1" fill="none"/>
<text x="297.7" y="391.3" text-anchor="end" style="font-family:'Liberation Serif', serif;font-size:8.5px;fill:#1e1e1e;stroke:#1e1e1e;stroke-width:0.2px">0</text>
<text x="297.7" y="366.99" text-anchor="end" style="font-family:'Liberation Serif', serif;font-size:8.5px;fill:#1e1e1e;stroke:#1e1e1e;stroke-width:0.2px">2</text>
<text x="297.7" y="342.67" text-anchor="end" style="font-family:'Liberation Serif', serif;font-size:8.5px;fill:#1e1e1e;stroke:#1e1e1e;stroke-width:0.2px">4</text>
<text x="297.7" y="318.36" text-anchor="end" style="font-family:'Liberation Serif', serif;font-size:8.5px;fill:#1e1e1e;stroke:#1e1e1e;stroke-width:0.2px">6</text>
<text x="297.7" y="294.04" text-anchor="end" style="font-family:'Liberation Serif', serif;font-size:8.5px;fill:#1e1e1e;stroke:#1e1e1e;stroke-width:0.2px">8</text>
<text x="297.7" y="269.73" text-anchor="end" style="font-family:'Liberation Serif', serif;font-size:8.5px;fill:#1e1e1e;stroke:#1e1e1e;stroke-width:0.2px">10</text>
<text x="297.7" y="245.41" text-anchor="end" style="font-family:'Liberation Serif', serif;font-size:8.5px;fill:#1e1e1e;stroke:#1e1e1e;stroke-width:0.2px">12</text>
<text x="297.7" y="221.1" text-anchor="end" style="font-family:'Liberation Serif', serif;font-size:8.5px;fill:#1e1e1e;stroke:#1e1e1e;stroke-width:0.2px">14</text>
<text x="303.7" y="401.1" text-anchor="middle" style="font-family:'Liberation Serif', serif;font-size:8.5px;fill:#1e1e1e;stroke:#1e1e1e;stroke-width:0.2px">0</text>
<text x="318" y="401.1" text-anchor="middle" style="font-family:'Liberation Serif', serif;font-size:8.5px;fill:#1e1e1e;stroke:#1e1e1e;stroke-width:0.2px">1</text>
<text x="332.3" y="401.1" text-anchor="middle" style="font-family:'Liberation Serif', serif;font-size:8.5px;fill:#1e1e1e;stroke:#1e1e1e;stroke-width:0.2px">2</text>
<text x="346.6" y="401.1" text-anchor="middle" style="font-family:'Liberation Serif', serif;font-size:8.5px;fill:#1e1e1e;stroke:#1e1e1e;stroke-width:0.2px">3</text>
<text x="360.9" y="401.1" text-anchor="middle" style="font-family:'Liberation Serif', serif;font-size:8.5px;fill:#1e1e1e;stroke:#1e1e1e;stroke-width:0.2px">4</text>
<text x="375.2" y="401.1" text-anchor="middle" style="font-family:'Liberation Serif', serif;font-size:8.5px;fill:#1e1e1e;stroke:#1e1e1e;stroke-width:0.2px">5</text>
<text x="389.5" y="401.1" text-anchor="middle" style="font-family:'Liberation Serif', serif;font-size:8.5px;fill:#1e1e1e;stroke:#1e1e1e;stroke-width:0.2px">6</text>
<text x="403.8" y="401.1" text-anchor="middle" style="font-family:'Liberation Serif', serif;font-size:8.5px;fill:#1e1e1e;stroke:#1e1e1e;stroke-width:0.2px">7</text>
<text x="418.1" y="401.1" text-anchor="middle" style="font-family:'Liberation Serif', serif;font-size:8.5px;fill:#1e1e1e;stroke:#1e1e1e;stroke-width:0.2px">8</text>
<text x="432.4" y="401.1" text-anchor="middle" style="font-family:'Liberation Serif', serif;font-size:8.5px;fill:#1e1e1e;stroke:#1e1e1e;stroke-width:0.2px">9</text>
<text x="446.7" y="401.1" text-anchor="middle" style="font-family:'Liberation Serif', serif;font-size:8.5px;fill:#1e1e1e;stroke:#1e1e1e;stroke-width:0.2px">10</text>
<text x="461" y="401.1" text-anchor="middle" style="font-family:'Liberation Serif', serif;font-size:8.5px;fill:#1e1e1e;stroke:#1e1e1e;stroke-width:0.2px">11</text>
<text x="475.3" y="401.1" text-anchor="middle" style="font-family:'Liberation Serif', serif;font-size:8.5px;fill:#1e1e1e;stroke:#1e1e1e;stroke-width:0.2px">12</text>
<text x="489.6" y="401.1" text-anchor="middle" style="font-family:'Liberation Serif', serif;font-size:8.5px;fill:#1e1e1e;stroke:#1e1e1e;stroke-width:0.2px">13</text>
<text x="503.9" y="401.1" text-anchor="middle" style="font-family:'Liberation Serif', serif;font-size:8.5px;fill:#1e1e1e;stroke:#1e1e1e;stroke-width:0.2px">14</text>
<text x="518.2" y="401.1" text-anchor="middle" style="font-family:'Liberation Serif', serif;font-size:8.5px;fill:#1e1e1e;stroke:#1e1e1e;stroke-width:0.2px">15</text>
<text x="523.7" y="391.3" text-anchor="start" style="font-family:'Liberation Serif', serif;font-size:8.5px;fill:#1e1e1e;stroke:#1e1e1e;stroke-width:0.2px">0</text>
<text x="523.7" y="366.99" text-anchor="start" style="font-family:'Liberation Serif', serif;font-size:8.5px;fill:#1e1e1e;stroke:#1e1e1e;stroke-width:0.2px">10</text>
<text x="523.7" y="342.67" text-anchor="start" style="font-family:'Liberation Serif', serif;font-size:8.5px;fill:#1e1e1e;stroke:#1e1e1e;stroke-width:0.2px">20</text>
<text x="523.7" y="318.36" text-anchor="start" style="font-family:'Liberation Serif', serif;font-size:8.5px;fill:#1e1e1e;stroke:#1e1e1e;stroke-width:0.2px">30</text>
<text x="523.7" y="294.04" text-anchor="start" style="font-family:'Liberation Serif', serif;font-size:8.5px;fill:#1e1e1e;stroke:#1e1e1e;stroke-width:0.2px">40</text>
<text x="523.7" y="269.73" text-anchor="start" style="font-family:'Liberation Serif', serif;font-size:8.5px;fill:#1e1e1e;stroke:#1e1e1e;stroke-width:0.2px">50</text>
<text x="523.7" y="245.41" text-anchor="start" style="font-family:'Liberation Serif', serif;font-size:8.5px;fill:#1e1e1e;stroke:#1e1e1e;stroke-width:0.2px">60</text>
<text x="523.7" y="221.1" text-anchor="start" style="font-family:'Liberation Serif', serif;font-size:8.5px;fill:#1e1e1e;stroke:#1e1e1e;stroke-width:0.2px">70</text>
<text transform="translate(285.5 303.2) rotate(-90)" text-anchor="middle" style="font-family:'Liberation Serif', serif;font-size:9.7px;fill:#1e1e1e;stroke:#1e1e1e;stroke-width:0.18px">Lap energy dissipation (×10<tspan dy="-3.4" font-size="6.4">3</tspan><tspan dy="3.4">J)</tspan></text>
<text transform="translate(542.7 303.2) rotate(-90)" text-anchor="middle" style="font-family:'Liberation Serif', serif;font-size:9.7px;fill:#1e1e1e;stroke:#1e1e1e;stroke-width:0.18px">accumulated energy dissipation (×10<tspan dy="-3.4" font-size="6.4">3</tspan><tspan dy="3.4">J)</tspan></text>
<text x="410.95" y="409.7" text-anchor="middle" style="font-family:'Liberation Serif', serif;font-size:9.7px;fill:#1e1e1e;stroke:#1e1e1e;stroke-width:0.18px">Number of loading cycles</text>
<text x="375.2" y="423.3" style="font-family:'Liberation Serif', serif;font-size:11.8px;fill:#1a1a1a;stroke:#1a1a1a;stroke-width:0.18px">(d) RCS</text>
<rect x="418.5" y="419.5" width="2.9" height="1.0" fill="#333"/>
<text x="426.13" y="423.3" style="font-family:'Liberation Serif', serif;font-size:11.8px;fill:#1a1a1a;stroke:#1a1a1a;stroke-width:0.18px">3</text>
<rect x="4.5" y="426.6" width="34" height="16" fill="#4646f6" stroke="#3030d0" stroke-width="0.8"/>
<text x="43.3" y="439.6" style="font-family:'Liberation Serif', serif;font-size:15.25px;fill:#1a1a1a;stroke:#1a1a1a;stroke-width:0.15px">Single ring energy consumption-Test</text>
<rect x="271.6" y="426.8" width="34" height="15.6" fill="#ff4848" stroke="#e03030" stroke-width="0.8"/>
<text x="310.2" y="439.6" style="font-family:'Liberation Serif', serif;font-size:15.25px;fill:#1a1a1a;stroke:#1a1a1a;stroke-width:0.15px">Single ring energy consumption-FEM</text>
<path d="M 5.5 456.8 H 39" stroke="#0a0aff" stroke-width="2.2"/>
<rect x="19" y="453.6" width="6.4" height="6.4" fill="#0a0aff"/>
<text x="43.3" y="462.2" style="font-family:'Liberation Serif', serif;font-size:15.25px;fill:#1a1a1a;stroke:#1a1a1a;stroke-width:0.15px">Accumulated energy dissipation-Test</text>
<path d="M 272.5 457 H 305.6" stroke="#ff1010" stroke-width="2.2"/>
<circle cx="289" cy="457" r="3.2" fill="#ff1010"/>
<text x="310.2" y="462.2" style="font-family:'Liberation Serif', serif;font-size:15.25px;fill:#1a1a1a;stroke:#1a1a1a;stroke-width:0.15px">Accumulated energy dissipation-FEM</text>
</svg>
</body></html>
